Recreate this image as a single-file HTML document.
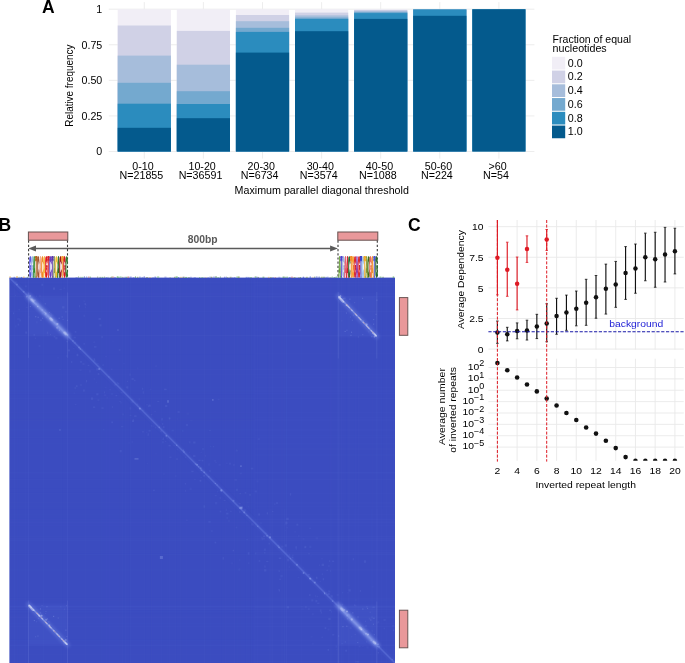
<!DOCTYPE html>
<html lang="en"><head><meta charset="utf-8"><title>Figure</title>
<style>
html,body{margin:0;padding:0;background:#fff;}
svg{display:block;}
text{font-family:"Liberation Sans", Arial, Helvetica, sans-serif;fill:#000;}
.t{font-size:10.7px;}
.c{font-size:10.35px;}
.lab{font-size:17.5px;font-weight:700;fill:#000;}
</style></head><body>
<svg width="685" height="663" viewBox="0 0 685 663">
<defs>
<filter id="b1" x="-20%" y="-20%" width="140%" height="140%"><feGaussianBlur stdDeviation="0.8"/></filter>
<filter id="b2" x="-20%" y="-20%" width="140%" height="140%"><feGaussianBlur stdDeviation="1.6"/></filter>
<filter id="b3" x="-30%" y="-30%" width="160%" height="160%"><feGaussianBlur stdDeviation="3"/></filter>
<filter id="b05" x="-20%" y="-20%" width="140%" height="140%"><feGaussianBlur stdDeviation="0.45"/></filter>
</defs>
<rect width="685" height="663" fill="#fff"/>

<g id="panelA">
<text class="lab" x="42" y="12.6">A</text>
<line x1="108.8" x2="534.4" y1="151.50" y2="151.50" stroke="#ebebeb" stroke-width="0.9"/>
<line x1="108.8" x2="534.4" y1="115.92" y2="115.92" stroke="#ebebeb" stroke-width="0.9"/>
<line x1="108.8" x2="534.4" y1="80.35" y2="80.35" stroke="#ebebeb" stroke-width="0.9"/>
<line x1="108.8" x2="534.4" y1="44.77" y2="44.77" stroke="#ebebeb" stroke-width="0.9"/>
<line x1="108.8" x2="534.4" y1="9.20" y2="9.20" stroke="#ebebeb" stroke-width="0.9"/>
<line x1="144.30" x2="144.30" y1="2.1" y2="158.6" stroke="#ebebeb" stroke-width="0.9"/>
<line x1="203.40" x2="203.40" y1="2.1" y2="158.6" stroke="#ebebeb" stroke-width="0.9"/>
<line x1="262.50" x2="262.50" y1="2.1" y2="158.6" stroke="#ebebeb" stroke-width="0.9"/>
<line x1="321.60" x2="321.60" y1="2.1" y2="158.6" stroke="#ebebeb" stroke-width="0.9"/>
<line x1="380.70" x2="380.70" y1="2.1" y2="158.6" stroke="#ebebeb" stroke-width="0.9"/>
<line x1="439.80" x2="439.80" y1="2.1" y2="158.6" stroke="#ebebeb" stroke-width="0.9"/>
<line x1="498.90" x2="498.90" y1="2.1" y2="158.6" stroke="#ebebeb" stroke-width="0.9"/>
<rect x="117.70" y="9.20" width="53.2" height="142.30" fill="#f1eef6"/>
<rect x="117.70" y="25.50" width="53.2" height="126.00" fill="#d0d1e6"/>
<rect x="117.70" y="55.60" width="53.2" height="95.90" fill="#a6bddb"/>
<rect x="117.70" y="82.80" width="53.2" height="68.70" fill="#74a9cf"/>
<rect x="117.70" y="103.70" width="53.2" height="47.80" fill="#2b8cbe"/>
<rect x="117.70" y="127.80" width="53.2" height="23.70" fill="#045a8d"/>
<rect x="176.80" y="9.20" width="53.2" height="142.30" fill="#f1eef6"/>
<rect x="176.80" y="30.90" width="53.2" height="120.60" fill="#d0d1e6"/>
<rect x="176.80" y="64.70" width="53.2" height="86.80" fill="#a6bddb"/>
<rect x="176.80" y="91.20" width="53.2" height="60.30" fill="#74a9cf"/>
<rect x="176.80" y="104.00" width="53.2" height="47.50" fill="#2b8cbe"/>
<rect x="176.80" y="118.20" width="53.2" height="33.30" fill="#045a8d"/>
<rect x="235.90" y="9.20" width="53.2" height="142.30" fill="#f1eef6"/>
<rect x="235.90" y="15.00" width="53.2" height="136.50" fill="#d0d1e6"/>
<rect x="235.90" y="21.20" width="53.2" height="130.30" fill="#a6bddb"/>
<rect x="235.90" y="27.80" width="53.2" height="123.70" fill="#74a9cf"/>
<rect x="235.90" y="31.90" width="53.2" height="119.60" fill="#2b8cbe"/>
<rect x="235.90" y="52.60" width="53.2" height="98.90" fill="#045a8d"/>
<rect x="295.00" y="9.20" width="53.2" height="142.30" fill="#f1eef6"/>
<rect x="295.00" y="12.60" width="53.2" height="138.90" fill="#d0d1e6"/>
<rect x="295.00" y="15.40" width="53.2" height="136.10" fill="#a6bddb"/>
<rect x="295.00" y="17.50" width="53.2" height="134.00" fill="#74a9cf"/>
<rect x="295.00" y="18.90" width="53.2" height="132.60" fill="#2b8cbe"/>
<rect x="295.00" y="31.20" width="53.2" height="120.30" fill="#045a8d"/>
<rect x="354.10" y="9.20" width="53.2" height="142.30" fill="#f1eef6"/>
<rect x="354.10" y="9.90" width="53.2" height="141.60" fill="#d0d1e6"/>
<rect x="354.10" y="10.80" width="53.2" height="140.70" fill="#a6bddb"/>
<rect x="354.10" y="12.00" width="53.2" height="139.50" fill="#74a9cf"/>
<rect x="354.10" y="13.10" width="53.2" height="138.40" fill="#2b8cbe"/>
<rect x="354.10" y="18.90" width="53.2" height="132.60" fill="#045a8d"/>
<rect x="413.20" y="9.20" width="53.2" height="142.30" fill="#a6bddb"/>
<rect x="413.20" y="9.30" width="53.2" height="142.20" fill="#74a9cf"/>
<rect x="413.20" y="9.50" width="53.2" height="142.00" fill="#2b8cbe"/>
<rect x="413.20" y="15.80" width="53.2" height="135.70" fill="#045a8d"/>
<rect x="472.30" y="9.20" width="53.2" height="142.30" fill="#2b8cbe"/>
<rect x="472.30" y="9.30" width="53.2" height="142.20" fill="#045a8d"/>
<text class="t" transform="translate(102.3,155.30) scale(1,0.94)" text-anchor="end">0</text>
<text class="t" transform="translate(102.3,119.72) scale(1,0.94)" text-anchor="end">0.25</text>
<text class="t" transform="translate(102.3,84.15) scale(1,0.94)" text-anchor="end">0.50</text>
<text class="t" transform="translate(102.3,48.57) scale(1,0.94)" text-anchor="end">0.75</text>
<text class="t" transform="translate(102.3,13.00) scale(1,0.94)" text-anchor="end">1</text>
<text class="t" transform="translate(73.3,85.7) rotate(-90) scale(1,0.94)" text-anchor="middle" textLength="82.1" lengthAdjust="spacingAndGlyphs">Relative frequency</text>
<text class="t" transform="translate(143.00,170.4) scale(1,0.94)" text-anchor="middle">0-10</text>
<text class="t" transform="translate(141.40,179.1) scale(1,0.94)" text-anchor="middle">N=21855</text>
<text class="t" transform="translate(202.10,170.4) scale(1,0.94)" text-anchor="middle">10-20</text>
<text class="t" transform="translate(200.50,179.1) scale(1,0.94)" text-anchor="middle">N=36591</text>
<text class="t" transform="translate(261.20,170.4) scale(1,0.94)" text-anchor="middle">20-30</text>
<text class="t" transform="translate(259.60,179.1) scale(1,0.94)" text-anchor="middle">N=6734</text>
<text class="t" transform="translate(320.30,170.4) scale(1,0.94)" text-anchor="middle">30-40</text>
<text class="t" transform="translate(318.70,179.1) scale(1,0.94)" text-anchor="middle">N=3574</text>
<text class="t" transform="translate(379.40,170.4) scale(1,0.94)" text-anchor="middle">40-50</text>
<text class="t" transform="translate(377.80,179.1) scale(1,0.94)" text-anchor="middle">N=1088</text>
<text class="t" transform="translate(438.50,170.4) scale(1,0.94)" text-anchor="middle">50-60</text>
<text class="t" transform="translate(436.90,179.1) scale(1,0.94)" text-anchor="middle">N=224</text>
<text class="t" transform="translate(497.60,170.4) scale(1,0.94)" text-anchor="middle">&gt;60</text>
<text class="t" transform="translate(496.00,179.1) scale(1,0.94)" text-anchor="middle">N=54</text>
<text class="t" transform="translate(321.7,194.4) scale(1,0.94)" text-anchor="middle" textLength="174.3" lengthAdjust="spacingAndGlyphs">Maximum parallel diagonal threshold</text>
<text class="t" transform="translate(552.6,43.4) scale(1,0.94)" textLength="78.5" lengthAdjust="spacingAndGlyphs">Fraction of equal</text>
<text class="t" transform="translate(552.6,51.9) scale(1,0.94)">nucleotides</text>
<rect x="552" y="56.80" width="13.2" height="12.7" fill="#f1eef6"/>
<text class="t" transform="translate(567.8,66.70) scale(1,0.94)">0.0</text>
<rect x="552" y="70.55" width="13.2" height="12.7" fill="#d0d1e6"/>
<text class="t" transform="translate(567.8,80.45) scale(1,0.94)">0.2</text>
<rect x="552" y="84.30" width="13.2" height="12.7" fill="#a6bddb"/>
<text class="t" transform="translate(567.8,94.20) scale(1,0.94)">0.4</text>
<rect x="552" y="98.05" width="13.2" height="12.7" fill="#74a9cf"/>
<text class="t" transform="translate(567.8,107.95) scale(1,0.94)">0.6</text>
<rect x="552" y="111.80" width="13.2" height="12.7" fill="#2b8cbe"/>
<text class="t" transform="translate(567.8,121.70) scale(1,0.94)">0.8</text>
<rect x="552" y="125.55" width="13.2" height="12.7" fill="#045a8d"/>
<text class="t" transform="translate(567.8,135.45) scale(1,0.94)">1.0</text>
</g>
<g id="panelB">
<text class="lab" x="-1.6" y="230.8">B</text>
<rect x="28.4" y="232" width="39.4" height="8.2" fill="#e9989a" stroke="#66504f" stroke-width="1"/>
<rect x="337.8" y="232" width="40.0" height="8.2" fill="#e9989a" stroke="#66504f" stroke-width="1"/>
<rect x="399.4" y="297.6" width="8.4" height="37.7" fill="#e9989a" stroke="#66504f" stroke-width="0.95"/>
<rect x="399.4" y="610.2" width="8.4" height="37.6" fill="#e9989a" stroke="#66504f" stroke-width="0.95"/>
<line x1="28.6" x2="28.6" y1="240.6" y2="277.4" stroke="#3a3a3a" stroke-width="1.1" stroke-dasharray="2.2 2"/>
<line x1="67.5" x2="67.5" y1="240.6" y2="277.4" stroke="#3a3a3a" stroke-width="1.1" stroke-dasharray="2.2 2"/>
<line x1="338.0" x2="338.0" y1="240.6" y2="277.4" stroke="#3a3a3a" stroke-width="1.1" stroke-dasharray="2.2 2"/>
<line x1="377.3" x2="377.3" y1="240.6" y2="277.4" stroke="#3a3a3a" stroke-width="1.1" stroke-dasharray="2.2 2"/>
<line x1="34" x2="332" y1="248.5" y2="248.5" stroke="#5a5a5a" stroke-width="1.3"/>
<polygon points="28.2,248.5 36.0,245.6 36.0,251.4" fill="#5a5a5a"/>
<polygon points="337.9,248.5 330.1,245.6 330.1,251.4" fill="#5a5a5a"/>
<text x="202.6" y="242.8" text-anchor="middle" style="font-size:10.4px;font-weight:700;fill:#595959" textLength="29.8" lengthAdjust="spacingAndGlyphs">800bp</text>
<rect x="9.4" y="277.6" width="385.6" height="385.4" fill="#3b4cc0"/>
<clipPath id="hc"><rect x="9.4" y="277.6" width="385.6" height="385.4"/></clipPath>
<g clip-path="url(#hc)">
<line x1="101.2" x2="101.2" y1="277.6" y2="663.0" stroke="#7f92ea" stroke-width="0.8" opacity="0.034"/>
<line x1="9.4" x2="395.0" y1="369.4" y2="369.4" stroke="#7f92ea" stroke-width="0.8" opacity="0.034"/>
<line x1="152.1" x2="152.1" y1="277.6" y2="663.0" stroke="#7f92ea" stroke-width="0.8" opacity="0.036"/>
<line x1="9.4" x2="395.0" y1="420.3" y2="420.3" stroke="#7f92ea" stroke-width="0.8" opacity="0.036"/>
<line x1="250.7" x2="250.7" y1="277.6" y2="663.0" stroke="#7f92ea" stroke-width="0.8" opacity="0.017"/>
<line x1="9.4" x2="395.0" y1="518.9" y2="518.9" stroke="#7f92ea" stroke-width="0.8" opacity="0.017"/>
<line x1="14.5" x2="14.5" y1="277.6" y2="663.0" stroke="#7f92ea" stroke-width="0.8" opacity="0.044"/>
<line x1="9.4" x2="395.0" y1="282.7" y2="282.7" stroke="#7f92ea" stroke-width="0.8" opacity="0.044"/>
<line x1="109.4" x2="109.4" y1="277.6" y2="663.0" stroke="#7f92ea" stroke-width="0.8" opacity="0.023"/>
<line x1="9.4" x2="395.0" y1="377.6" y2="377.6" stroke="#7f92ea" stroke-width="0.8" opacity="0.023"/>
<line x1="393.3" x2="393.3" y1="277.6" y2="663.0" stroke="#7f92ea" stroke-width="0.8" opacity="0.031"/>
<line x1="9.4" x2="395.0" y1="661.5" y2="661.5" stroke="#7f92ea" stroke-width="0.8" opacity="0.031"/>
<line x1="331.9" x2="331.9" y1="277.6" y2="663.0" stroke="#7f92ea" stroke-width="0.8" opacity="0.032"/>
<line x1="9.4" x2="395.0" y1="600.1" y2="600.1" stroke="#7f92ea" stroke-width="0.8" opacity="0.032"/>
<line x1="255.8" x2="255.8" y1="277.6" y2="663.0" stroke="#7f92ea" stroke-width="0.8" opacity="0.020"/>
<line x1="9.4" x2="395.0" y1="524.0" y2="524.0" stroke="#7f92ea" stroke-width="0.8" opacity="0.020"/>
<line x1="254.2" x2="254.2" y1="277.6" y2="663.0" stroke="#7f92ea" stroke-width="0.8" opacity="0.045"/>
<line x1="9.4" x2="395.0" y1="522.4" y2="522.4" stroke="#7f92ea" stroke-width="0.8" opacity="0.045"/>
<line x1="211.1" x2="211.1" y1="277.6" y2="663.0" stroke="#7f92ea" stroke-width="0.8" opacity="0.041"/>
<line x1="9.4" x2="395.0" y1="479.3" y2="479.3" stroke="#7f92ea" stroke-width="0.8" opacity="0.041"/>
<line x1="268.3" x2="268.3" y1="277.6" y2="663.0" stroke="#7f92ea" stroke-width="0.8" opacity="0.017"/>
<line x1="9.4" x2="395.0" y1="536.5" y2="536.5" stroke="#7f92ea" stroke-width="0.8" opacity="0.017"/>
<line x1="301.8" x2="301.8" y1="277.6" y2="663.0" stroke="#7f92ea" stroke-width="0.8" opacity="0.036"/>
<line x1="9.4" x2="395.0" y1="570.0" y2="570.0" stroke="#7f92ea" stroke-width="0.8" opacity="0.036"/>
<line x1="125.6" x2="125.6" y1="277.6" y2="663.0" stroke="#7f92ea" stroke-width="0.8" opacity="0.016"/>
<line x1="9.4" x2="395.0" y1="393.8" y2="393.8" stroke="#7f92ea" stroke-width="0.8" opacity="0.016"/>
<line x1="343.1" x2="343.1" y1="277.6" y2="663.0" stroke="#7f92ea" stroke-width="0.8" opacity="0.032"/>
<line x1="9.4" x2="395.0" y1="611.3" y2="611.3" stroke="#7f92ea" stroke-width="0.8" opacity="0.032"/>
<line x1="286.6" x2="286.6" y1="277.6" y2="663.0" stroke="#7f92ea" stroke-width="0.8" opacity="0.046"/>
<line x1="9.4" x2="395.0" y1="554.8" y2="554.8" stroke="#7f92ea" stroke-width="0.8" opacity="0.046"/>
<line x1="284.8" x2="284.8" y1="277.6" y2="663.0" stroke="#7f92ea" stroke-width="0.8" opacity="0.047"/>
<line x1="9.4" x2="395.0" y1="553.0" y2="553.0" stroke="#7f92ea" stroke-width="0.8" opacity="0.047"/>
<line x1="161.7" x2="161.7" y1="277.6" y2="663.0" stroke="#7f92ea" stroke-width="0.8" opacity="0.043"/>
<line x1="9.4" x2="395.0" y1="429.9" y2="429.9" stroke="#7f92ea" stroke-width="0.8" opacity="0.043"/>
<line x1="180.8" x2="180.8" y1="277.6" y2="663.0" stroke="#7f92ea" stroke-width="0.8" opacity="0.048"/>
<line x1="9.4" x2="395.0" y1="449.0" y2="449.0" stroke="#7f92ea" stroke-width="0.8" opacity="0.048"/>
<line x1="348.3" x2="348.3" y1="277.6" y2="663.0" stroke="#7f92ea" stroke-width="0.8" opacity="0.018"/>
<line x1="9.4" x2="395.0" y1="616.5" y2="616.5" stroke="#7f92ea" stroke-width="0.8" opacity="0.018"/>
<line x1="61.8" x2="61.8" y1="277.6" y2="663.0" stroke="#7f92ea" stroke-width="0.8" opacity="0.023"/>
<line x1="9.4" x2="395.0" y1="330.0" y2="330.0" stroke="#7f92ea" stroke-width="0.8" opacity="0.023"/>
<line x1="381.7" x2="381.7" y1="277.6" y2="663.0" stroke="#7f92ea" stroke-width="0.8" opacity="0.030"/>
<line x1="9.4" x2="395.0" y1="649.9" y2="649.9" stroke="#7f92ea" stroke-width="0.8" opacity="0.030"/>
<line x1="251.0" x2="251.0" y1="277.6" y2="663.0" stroke="#7f92ea" stroke-width="0.8" opacity="0.026"/>
<line x1="9.4" x2="395.0" y1="519.2" y2="519.2" stroke="#7f92ea" stroke-width="0.8" opacity="0.026"/>
<line x1="205.0" x2="205.0" y1="277.6" y2="663.0" stroke="#7f92ea" stroke-width="0.8" opacity="0.029"/>
<line x1="9.4" x2="395.0" y1="473.2" y2="473.2" stroke="#7f92ea" stroke-width="0.8" opacity="0.029"/>
<line x1="144.7" x2="144.7" y1="277.6" y2="663.0" stroke="#7f92ea" stroke-width="0.8" opacity="0.035"/>
<line x1="9.4" x2="395.0" y1="412.9" y2="412.9" stroke="#7f92ea" stroke-width="0.8" opacity="0.035"/>
<line x1="234.7" x2="234.7" y1="277.6" y2="663.0" stroke="#7f92ea" stroke-width="0.8" opacity="0.047"/>
<line x1="9.4" x2="395.0" y1="502.9" y2="502.9" stroke="#7f92ea" stroke-width="0.8" opacity="0.047"/>
<line x1="272.4" x2="272.4" y1="277.6" y2="663.0" stroke="#7f92ea" stroke-width="0.8" opacity="0.048"/>
<line x1="9.4" x2="395.0" y1="540.6" y2="540.6" stroke="#7f92ea" stroke-width="0.8" opacity="0.048"/>
<line x1="339.6" x2="339.6" y1="277.6" y2="663.0" stroke="#7f92ea" stroke-width="0.8" opacity="0.050"/>
<line x1="9.4" x2="395.0" y1="607.8" y2="607.8" stroke="#7f92ea" stroke-width="0.8" opacity="0.050"/>
<line x1="268.2" x2="268.2" y1="277.6" y2="663.0" stroke="#7f92ea" stroke-width="0.8" opacity="0.021"/>
<line x1="9.4" x2="395.0" y1="536.4" y2="536.4" stroke="#7f92ea" stroke-width="0.8" opacity="0.021"/>
<line x1="341.3" x2="341.3" y1="277.6" y2="663.0" stroke="#7f92ea" stroke-width="0.8" opacity="0.049"/>
<line x1="9.4" x2="395.0" y1="609.5" y2="609.5" stroke="#7f92ea" stroke-width="0.8" opacity="0.049"/>
<line x1="358.3" x2="358.3" y1="277.6" y2="663.0" stroke="#7f92ea" stroke-width="0.8" opacity="0.035"/>
<line x1="9.4" x2="395.0" y1="626.5" y2="626.5" stroke="#7f92ea" stroke-width="0.8" opacity="0.035"/>
<line x1="284.6" x2="284.6" y1="277.6" y2="663.0" stroke="#7f92ea" stroke-width="0.8" opacity="0.022"/>
<line x1="9.4" x2="395.0" y1="552.8" y2="552.8" stroke="#7f92ea" stroke-width="0.8" opacity="0.022"/>
<line x1="330.1" x2="330.1" y1="277.6" y2="663.0" stroke="#7f92ea" stroke-width="0.8" opacity="0.035"/>
<line x1="9.4" x2="395.0" y1="598.3" y2="598.3" stroke="#7f92ea" stroke-width="0.8" opacity="0.035"/>
<line x1="119.3" x2="119.3" y1="277.6" y2="663.0" stroke="#7f92ea" stroke-width="0.8" opacity="0.017"/>
<line x1="9.4" x2="395.0" y1="387.5" y2="387.5" stroke="#7f92ea" stroke-width="0.8" opacity="0.017"/>
<line x1="338.7" x2="338.7" y1="277.6" y2="663.0" stroke="#7f92ea" stroke-width="0.8" opacity="0.050"/>
<line x1="9.4" x2="395.0" y1="606.9" y2="606.9" stroke="#7f92ea" stroke-width="0.8" opacity="0.050"/>
<line x1="43.5" x2="43.5" y1="277.6" y2="663.0" stroke="#7f92ea" stroke-width="0.8" opacity="0.043"/>
<line x1="9.4" x2="395.0" y1="311.7" y2="311.7" stroke="#7f92ea" stroke-width="0.8" opacity="0.043"/>
<line x1="167.7" x2="167.7" y1="277.6" y2="663.0" stroke="#7f92ea" stroke-width="0.8" opacity="0.020"/>
<line x1="9.4" x2="395.0" y1="435.9" y2="435.9" stroke="#7f92ea" stroke-width="0.8" opacity="0.020"/>
<line x1="122.7" x2="122.7" y1="277.6" y2="663.0" stroke="#7f92ea" stroke-width="0.8" opacity="0.042"/>
<line x1="9.4" x2="395.0" y1="390.9" y2="390.9" stroke="#7f92ea" stroke-width="0.8" opacity="0.042"/>
<line x1="345.9" x2="345.9" y1="277.6" y2="663.0" stroke="#7f92ea" stroke-width="0.8" opacity="0.017"/>
<line x1="9.4" x2="395.0" y1="614.1" y2="614.1" stroke="#7f92ea" stroke-width="0.8" opacity="0.017"/>
<line x1="246.4" x2="246.4" y1="277.6" y2="663.0" stroke="#7f92ea" stroke-width="0.8" opacity="0.017"/>
<line x1="9.4" x2="395.0" y1="514.6" y2="514.6" stroke="#7f92ea" stroke-width="0.8" opacity="0.017"/>
<line x1="286.4" x2="286.4" y1="277.6" y2="663.0" stroke="#7f92ea" stroke-width="0.8" opacity="0.027"/>
<line x1="9.4" x2="395.0" y1="554.6" y2="554.6" stroke="#7f92ea" stroke-width="0.8" opacity="0.027"/>
<line x1="349.1" x2="349.1" y1="277.6" y2="663.0" stroke="#7f92ea" stroke-width="0.8" opacity="0.049"/>
<line x1="9.4" x2="395.0" y1="617.3" y2="617.3" stroke="#7f92ea" stroke-width="0.8" opacity="0.049"/>
<line x1="204.3" x2="204.3" y1="277.6" y2="663.0" stroke="#7f92ea" stroke-width="0.8" opacity="0.050"/>
<line x1="9.4" x2="395.0" y1="472.5" y2="472.5" stroke="#7f92ea" stroke-width="0.8" opacity="0.050"/>
<line x1="128.8" x2="128.8" y1="277.6" y2="663.0" stroke="#7f92ea" stroke-width="0.8" opacity="0.018"/>
<line x1="9.4" x2="395.0" y1="397.0" y2="397.0" stroke="#7f92ea" stroke-width="0.8" opacity="0.018"/>
<line x1="240.7" x2="240.7" y1="277.6" y2="663.0" stroke="#7f92ea" stroke-width="0.8" opacity="0.016"/>
<line x1="9.4" x2="395.0" y1="508.9" y2="508.9" stroke="#7f92ea" stroke-width="0.8" opacity="0.016"/>
<line x1="85.5" x2="85.5" y1="277.6" y2="663.0" stroke="#7f92ea" stroke-width="0.8" opacity="0.029"/>
<line x1="9.4" x2="395.0" y1="353.7" y2="353.7" stroke="#7f92ea" stroke-width="0.8" opacity="0.029"/>
<line x1="244.8" x2="244.8" y1="277.6" y2="663.0" stroke="#7f92ea" stroke-width="0.8" opacity="0.020"/>
<line x1="9.4" x2="395.0" y1="513.0" y2="513.0" stroke="#7f92ea" stroke-width="0.8" opacity="0.020"/>
<line x1="25.8" x2="25.8" y1="277.6" y2="663.0" stroke="#7f92ea" stroke-width="0.8" opacity="0.045"/>
<line x1="9.4" x2="395.0" y1="294.0" y2="294.0" stroke="#7f92ea" stroke-width="0.8" opacity="0.045"/>
<line x1="130.4" x2="130.4" y1="277.6" y2="663.0" stroke="#7f92ea" stroke-width="0.8" opacity="0.049"/>
<line x1="9.4" x2="395.0" y1="398.6" y2="398.6" stroke="#7f92ea" stroke-width="0.8" opacity="0.049"/>
<line x1="355.2" x2="355.2" y1="277.6" y2="663.0" stroke="#7f92ea" stroke-width="0.8" opacity="0.028"/>
<line x1="9.4" x2="395.0" y1="623.4" y2="623.4" stroke="#7f92ea" stroke-width="0.8" opacity="0.028"/>
<line x1="186.9" x2="186.9" y1="277.6" y2="663.0" stroke="#7f92ea" stroke-width="0.8" opacity="0.033"/>
<line x1="9.4" x2="395.0" y1="455.1" y2="455.1" stroke="#7f92ea" stroke-width="0.8" opacity="0.033"/>
<line x1="257.7" x2="257.7" y1="277.6" y2="663.0" stroke="#7f92ea" stroke-width="0.8" opacity="0.036"/>
<line x1="9.4" x2="395.0" y1="525.9" y2="525.9" stroke="#7f92ea" stroke-width="0.8" opacity="0.036"/>
<line x1="225.1" x2="225.1" y1="277.6" y2="663.0" stroke="#7f92ea" stroke-width="0.8" opacity="0.037"/>
<line x1="9.4" x2="395.0" y1="493.3" y2="493.3" stroke="#7f92ea" stroke-width="0.8" opacity="0.037"/>
<line x1="372.1" x2="372.1" y1="277.6" y2="663.0" stroke="#7f92ea" stroke-width="0.8" opacity="0.033"/>
<line x1="9.4" x2="395.0" y1="640.3" y2="640.3" stroke="#7f92ea" stroke-width="0.8" opacity="0.033"/>
<line x1="175.7" x2="175.7" y1="277.6" y2="663.0" stroke="#7f92ea" stroke-width="0.8" opacity="0.040"/>
<line x1="9.4" x2="395.0" y1="443.9" y2="443.9" stroke="#7f92ea" stroke-width="0.8" opacity="0.040"/>
<line x1="101.0" x2="101.0" y1="277.6" y2="663.0" stroke="#7f92ea" stroke-width="0.8" opacity="0.026"/>
<line x1="9.4" x2="395.0" y1="369.2" y2="369.2" stroke="#7f92ea" stroke-width="0.8" opacity="0.026"/>
<line x1="386.4" x2="386.4" y1="277.6" y2="663.0" stroke="#7f92ea" stroke-width="0.8" opacity="0.033"/>
<line x1="9.4" x2="395.0" y1="654.6" y2="654.6" stroke="#7f92ea" stroke-width="0.8" opacity="0.033"/>
<line x1="220.9" x2="220.9" y1="277.6" y2="663.0" stroke="#7f92ea" stroke-width="0.8" opacity="0.015"/>
<line x1="9.4" x2="395.0" y1="489.1" y2="489.1" stroke="#7f92ea" stroke-width="0.8" opacity="0.015"/>
<line x1="169.5" x2="169.5" y1="277.6" y2="663.0" stroke="#7f92ea" stroke-width="0.8" opacity="0.035"/>
<line x1="9.4" x2="395.0" y1="437.7" y2="437.7" stroke="#7f92ea" stroke-width="0.8" opacity="0.035"/>
<line x1="17.1" x2="17.1" y1="277.6" y2="663.0" stroke="#7f92ea" stroke-width="0.8" opacity="0.037"/>
<line x1="9.4" x2="395.0" y1="285.3" y2="285.3" stroke="#7f92ea" stroke-width="0.8" opacity="0.037"/>
<line x1="253.2" x2="253.2" y1="277.6" y2="663.0" stroke="#7f92ea" stroke-width="0.8" opacity="0.017"/>
<line x1="9.4" x2="395.0" y1="521.4" y2="521.4" stroke="#7f92ea" stroke-width="0.8" opacity="0.017"/>
<line x1="251.3" x2="251.3" y1="277.6" y2="663.0" stroke="#7f92ea" stroke-width="0.8" opacity="0.031"/>
<line x1="9.4" x2="395.0" y1="519.5" y2="519.5" stroke="#7f92ea" stroke-width="0.8" opacity="0.031"/>
<line x1="271.3" x2="271.3" y1="277.6" y2="663.0" stroke="#7f92ea" stroke-width="0.8" opacity="0.027"/>
<line x1="9.4" x2="395.0" y1="539.5" y2="539.5" stroke="#7f92ea" stroke-width="0.8" opacity="0.027"/>
<line x1="282.0" x2="282.0" y1="277.6" y2="663.0" stroke="#7f92ea" stroke-width="0.8" opacity="0.041"/>
<line x1="9.4" x2="395.0" y1="550.2" y2="550.2" stroke="#7f92ea" stroke-width="0.8" opacity="0.041"/>
<line x1="18.0" x2="18.0" y1="277.6" y2="663.0" stroke="#7f92ea" stroke-width="0.8" opacity="0.017"/>
<line x1="9.4" x2="395.0" y1="286.2" y2="286.2" stroke="#7f92ea" stroke-width="0.8" opacity="0.017"/>
<line x1="270.1" x2="270.1" y1="277.6" y2="663.0" stroke="#7f92ea" stroke-width="0.8" opacity="0.049"/>
<line x1="9.4" x2="395.0" y1="538.3" y2="538.3" stroke="#7f92ea" stroke-width="0.8" opacity="0.049"/>
<line x1="106.2" x2="106.2" y1="277.6" y2="663.0" stroke="#7f92ea" stroke-width="0.8" opacity="0.031"/>
<line x1="9.4" x2="395.0" y1="374.4" y2="374.4" stroke="#7f92ea" stroke-width="0.8" opacity="0.031"/>
<line x1="237.9" x2="237.9" y1="277.6" y2="663.0" stroke="#7f92ea" stroke-width="0.8" opacity="0.026"/>
<line x1="9.4" x2="395.0" y1="506.1" y2="506.1" stroke="#7f92ea" stroke-width="0.8" opacity="0.026"/>
<line x1="149.7" x2="149.7" y1="277.6" y2="663.0" stroke="#7f92ea" stroke-width="0.8" opacity="0.026"/>
<line x1="9.4" x2="395.0" y1="417.9" y2="417.9" stroke="#7f92ea" stroke-width="0.8" opacity="0.026"/>
<line x1="151.7" x2="151.7" y1="277.6" y2="663.0" stroke="#7f92ea" stroke-width="0.8" opacity="0.036"/>
<line x1="9.4" x2="395.0" y1="419.9" y2="419.9" stroke="#7f92ea" stroke-width="0.8" opacity="0.036"/>
<line x1="125.2" x2="125.2" y1="277.6" y2="663.0" stroke="#7f92ea" stroke-width="0.8" opacity="0.028"/>
<line x1="9.4" x2="395.0" y1="393.4" y2="393.4" stroke="#7f92ea" stroke-width="0.8" opacity="0.028"/>
<line x1="28.5" x2="28.5" y1="277.6" y2="663.0" stroke="#8fa0f0" stroke-width="1" opacity="0.05"/>
<line x1="9.4" x2="395.0" y1="296.7" y2="296.7" stroke="#8fa0f0" stroke-width="1" opacity="0.05"/>
<line x1="67.5" x2="67.5" y1="277.6" y2="663.0" stroke="#8fa0f0" stroke-width="1" opacity="0.05"/>
<line x1="9.4" x2="395.0" y1="335.7" y2="335.7" stroke="#8fa0f0" stroke-width="1" opacity="0.05"/>
<line x1="338" x2="338" y1="277.6" y2="663.0" stroke="#8fa0f0" stroke-width="1" opacity="0.05"/>
<line x1="9.4" x2="395.0" y1="606.2" y2="606.2" stroke="#8fa0f0" stroke-width="1" opacity="0.05"/>
<line x1="377" x2="377" y1="277.6" y2="663.0" stroke="#8fa0f0" stroke-width="1" opacity="0.05"/>
<line x1="9.4" x2="395.0" y1="645.2" y2="645.2" stroke="#8fa0f0" stroke-width="1" opacity="0.05"/>
<line x1="9.4" y1="277.6" x2="395.0" y2="663.0" stroke="#6f86e6" stroke-width="1.5" opacity="0.42" filter="url(#b05)"/>
<line x1="9.4" y1="277.6" x2="395.0" y2="663.0" stroke="#5468d4" stroke-width="4" opacity="0.22" filter="url(#b1)"/>
<rect x="229.3" y="462.7" width="1.4" height="2.0" fill="#7186e2" opacity="0.18"/>
<rect x="359.8" y="589.9" width="1.3" height="2.0" fill="#7186e2" opacity="0.15"/>
<rect x="203.5" y="505.3" width="1.7" height="2.4" fill="#7186e2" opacity="0.15"/>
<rect x="125.6" y="386.5" width="1.5" height="1.7" fill="#7186e2" opacity="0.07"/>
<rect x="243.7" y="509.3" width="2.3" height="2.4" fill="#7186e2" opacity="0.14"/>
<rect x="272.1" y="510.9" width="1.2" height="1.1" fill="#7186e2" opacity="0.20"/>
<rect x="119.1" y="400.9" width="2.1" height="1.2" fill="#7186e2" opacity="0.11"/>
<rect x="103.0" y="429.3" width="1.4" height="1.0" fill="#7186e2" opacity="0.13"/>
<rect x="126.8" y="380.8" width="1.2" height="1.0" fill="#7186e2" opacity="0.18"/>
<rect x="297.6" y="576.8" width="1.8" height="1.2" fill="#7186e2" opacity="0.08"/>
<rect x="55.5" y="319.8" width="1.4" height="1.3" fill="#7186e2" opacity="0.09"/>
<rect x="261.5" y="538.5" width="1.7" height="1.7" fill="#7186e2" opacity="0.11"/>
<rect x="217.2" y="490.7" width="1.1" height="1.7" fill="#7186e2" opacity="0.11"/>
<rect x="310.4" y="555.1" width="1.2" height="2.3" fill="#7186e2" opacity="0.06"/>
<rect x="218.5" y="463.8" width="2.3" height="2.1" fill="#7186e2" opacity="0.08"/>
<rect x="200.2" y="476.9" width="1.9" height="1.1" fill="#7186e2" opacity="0.07"/>
<rect x="241.4" y="505.6" width="1.6" height="1.8" fill="#7186e2" opacity="0.10"/>
<rect x="347.4" y="584.6" width="2.4" height="1.7" fill="#7186e2" opacity="0.06"/>
<rect x="162.5" y="438.8" width="1.2" height="1.3" fill="#7186e2" opacity="0.16"/>
<rect x="249.3" y="494.0" width="1.4" height="1.9" fill="#7186e2" opacity="0.17"/>
<rect x="321.6" y="563.7" width="2.4" height="2.3" fill="#7186e2" opacity="0.17"/>
<rect x="235.6" y="449.4" width="1.9" height="2.1" fill="#7186e2" opacity="0.09"/>
<rect x="44.9" y="309.2" width="1.4" height="1.9" fill="#7186e2" opacity="0.14"/>
<rect x="86.0" y="380.0" width="1.1" height="2.4" fill="#7186e2" opacity="0.17"/>
<rect x="230.6" y="562.3" width="2.5" height="2.0" fill="#7186e2" opacity="0.06"/>
<rect x="371.5" y="586.3" width="2.2" height="1.2" fill="#7186e2" opacity="0.07"/>
<rect x="17.4" y="317.9" width="2.2" height="2.2" fill="#7186e2" opacity="0.09"/>
<rect x="52.9" y="287.5" width="2.1" height="2.3" fill="#7186e2" opacity="0.20"/>
<rect x="300.4" y="605.9" width="2.3" height="1.0" fill="#7186e2" opacity="0.06"/>
<rect x="342.0" y="591.9" width="1.2" height="1.5" fill="#7186e2" opacity="0.11"/>
<rect x="200.5" y="451.8" width="1.7" height="1.3" fill="#7186e2" opacity="0.07"/>
<rect x="87.7" y="364.8" width="1.6" height="1.2" fill="#7186e2" opacity="0.17"/>
<rect x="219.5" y="496.9" width="1.7" height="2.0" fill="#7186e2" opacity="0.09"/>
<rect x="18.4" y="309.0" width="1.5" height="1.4" fill="#7186e2" opacity="0.10"/>
<rect x="330.9" y="611.1" width="1.0" height="1.7" fill="#7186e2" opacity="0.11"/>
<rect x="118.2" y="383.2" width="1.1" height="1.2" fill="#7186e2" opacity="0.20"/>
<rect x="142.7" y="391.2" width="1.2" height="2.5" fill="#7186e2" opacity="0.15"/>
<rect x="378.2" y="621.4" width="1.1" height="1.4" fill="#7186e2" opacity="0.17"/>
<rect x="208.4" y="521.1" width="2.2" height="1.6" fill="#7186e2" opacity="0.18"/>
<rect x="39.3" y="294.6" width="1.3" height="2.3" fill="#7186e2" opacity="0.12"/>
<rect x="322.7" y="578.2" width="1.4" height="2.1" fill="#7186e2" opacity="0.19"/>
<rect x="251.1" y="523.3" width="2.4" height="2.2" fill="#7186e2" opacity="0.12"/>
<rect x="163.4" y="473.0" width="1.1" height="2.2" fill="#7186e2" opacity="0.08"/>
<rect x="93.6" y="378.2" width="1.6" height="1.7" fill="#7186e2" opacity="0.08"/>
<rect x="173.1" y="444.7" width="2.1" height="1.1" fill="#7186e2" opacity="0.08"/>
<rect x="210.8" y="530.5" width="1.9" height="1.1" fill="#7186e2" opacity="0.18"/>
<rect x="392.2" y="624.9" width="2.3" height="1.8" fill="#7186e2" opacity="0.11"/>
<rect x="235.7" y="526.6" width="1.7" height="1.8" fill="#7186e2" opacity="0.10"/>
<rect x="217.7" y="398.8" width="1.8" height="1.4" fill="#7186e2" opacity="0.12"/>
<rect x="362.4" y="632.5" width="1.5" height="2.3" fill="#7186e2" opacity="0.10"/>
<rect x="328.3" y="617.8" width="2.4" height="2.3" fill="#7186e2" opacity="0.17"/>
<rect x="84.5" y="303.1" width="1.4" height="1.9" fill="#7186e2" opacity="0.18"/>
<rect x="369.4" y="653.6" width="1.5" height="1.2" fill="#7186e2" opacity="0.06"/>
<rect x="131.5" y="378.0" width="2.2" height="2.0" fill="#7186e2" opacity="0.15"/>
<rect x="328.2" y="589.8" width="1.5" height="2.0" fill="#7186e2" opacity="0.11"/>
<rect x="120.9" y="426.2" width="2.4" height="1.0" fill="#7186e2" opacity="0.16"/>
<rect x="33.5" y="334.2" width="1.6" height="1.5" fill="#7186e2" opacity="0.19"/>
<rect x="176.4" y="418.3" width="1.4" height="1.4" fill="#7186e2" opacity="0.07"/>
<rect x="14.9" y="281.4" width="1.8" height="2.1" fill="#7186e2" opacity="0.15"/>
<rect x="109.4" y="388.9" width="1.6" height="1.5" fill="#7186e2" opacity="0.09"/>
<rect x="380.0" y="647.3" width="2.1" height="1.2" fill="#7186e2" opacity="0.08"/>
<rect x="321.7" y="573.4" width="1.4" height="1.5" fill="#7186e2" opacity="0.14"/>
<rect x="129.6" y="414.8" width="1.9" height="1.1" fill="#7186e2" opacity="0.13"/>
<rect x="234.5" y="478.8" width="2.4" height="2.0" fill="#7186e2" opacity="0.12"/>
<rect x="73.4" y="392.5" width="1.9" height="1.4" fill="#7186e2" opacity="0.08"/>
<rect x="214.7" y="495.2" width="2.1" height="1.0" fill="#7186e2" opacity="0.15"/>
<rect x="83.2" y="389.5" width="1.5" height="2.1" fill="#7186e2" opacity="0.20"/>
<rect x="130.5" y="399.4" width="2.4" height="1.3" fill="#7186e2" opacity="0.15"/>
<rect x="41.4" y="283.7" width="1.8" height="2.1" fill="#7186e2" opacity="0.19"/>
<rect x="304.5" y="545.8" width="1.9" height="2.0" fill="#7186e2" opacity="0.15"/>
<rect x="284.7" y="544.3" width="2.1" height="2.4" fill="#7186e2" opacity="0.15"/>
<rect x="347.2" y="613.8" width="2.2" height="1.5" fill="#7186e2" opacity="0.18"/>
<rect x="348.4" y="589.2" width="2.3" height="2.4" fill="#7186e2" opacity="0.16"/>
<rect x="201.5" y="460.1" width="2.3" height="1.5" fill="#7186e2" opacity="0.09"/>
<rect x="301.3" y="608.4" width="2.4" height="1.3" fill="#7186e2" opacity="0.08"/>
<rect x="104.9" y="356.2" width="2.2" height="1.1" fill="#7186e2" opacity="0.09"/>
<rect x="220.2" y="490.1" width="2.0" height="1.5" fill="#7186e2" opacity="0.11"/>
<rect x="210.2" y="445.8" width="1.0" height="1.3" fill="#7186e2" opacity="0.11"/>
<rect x="262.5" y="537.6" width="2.5" height="2.0" fill="#7186e2" opacity="0.12"/>
<rect x="311.3" y="599.3" width="2.1" height="2.2" fill="#7186e2" opacity="0.14"/>
<rect x="246.4" y="538.9" width="1.6" height="1.4" fill="#7186e2" opacity="0.11"/>
<rect x="351.1" y="636.2" width="1.3" height="1.2" fill="#7186e2" opacity="0.11"/>
<rect x="74.7" y="404.1" width="1.8" height="1.0" fill="#7186e2" opacity="0.13"/>
<rect x="76.6" y="353.8" width="1.7" height="2.4" fill="#7186e2" opacity="0.20"/>
<rect x="162.7" y="437.6" width="1.1" height="1.6" fill="#7186e2" opacity="0.17"/>
<rect x="309.3" y="545.6" width="2.1" height="2.5" fill="#7186e2" opacity="0.11"/>
<rect x="280.3" y="575.0" width="2.3" height="2.3" fill="#7186e2" opacity="0.11"/>
<rect x="155.1" y="365.5" width="1.9" height="1.2" fill="#7186e2" opacity="0.10"/>
<rect x="152.4" y="425.5" width="2.0" height="1.5" fill="#7186e2" opacity="0.07"/>
<rect x="317.1" y="602.6" width="2.4" height="1.3" fill="#7186e2" opacity="0.16"/>
<rect x="41.5" y="312.8" width="2.0" height="1.8" fill="#7186e2" opacity="0.18"/>
<rect x="263.8" y="548.5" width="2.1" height="2.3" fill="#7186e2" opacity="0.14"/>
<rect x="96.3" y="393.3" width="2.2" height="2.0" fill="#7186e2" opacity="0.19"/>
<rect x="321.4" y="636.6" width="1.6" height="1.3" fill="#7186e2" opacity="0.12"/>
<rect x="363.1" y="633.7" width="1.0" height="1.7" fill="#7186e2" opacity="0.19"/>
<rect x="348.2" y="614.4" width="2.3" height="1.1" fill="#7186e2" opacity="0.09"/>
<rect x="307.8" y="553.2" width="2.4" height="1.0" fill="#7186e2" opacity="0.13"/>
<rect x="349.6" y="626.8" width="2.1" height="2.3" fill="#7186e2" opacity="0.10"/>
<rect x="225.6" y="508.6" width="1.6" height="2.5" fill="#7186e2" opacity="0.08"/>
<rect x="307.7" y="574.0" width="2.1" height="1.4" fill="#7186e2" opacity="0.20"/>
<rect x="310.4" y="636.0" width="2.3" height="1.7" fill="#7186e2" opacity="0.06"/>
<rect x="311.8" y="642.7" width="1.9" height="2.1" fill="#7186e2" opacity="0.07"/>
<rect x="194.3" y="478.7" width="1.3" height="1.5" fill="#7186e2" opacity="0.12"/>
<rect x="186.5" y="412.4" width="2.5" height="2.4" fill="#7186e2" opacity="0.06"/>
<rect x="247.7" y="552.3" width="1.8" height="2.3" fill="#7186e2" opacity="0.19"/>
<rect x="74.5" y="387.0" width="1.7" height="2.2" fill="#7186e2" opacity="0.12"/>
<rect x="169.4" y="456.5" width="2.1" height="1.6" fill="#7186e2" opacity="0.13"/>
<rect x="162.8" y="426.1" width="1.7" height="1.9" fill="#7186e2" opacity="0.16"/>
<rect x="357.2" y="615.9" width="1.6" height="2.4" fill="#7186e2" opacity="0.16"/>
<rect x="157.3" y="400.9" width="2.0" height="1.0" fill="#7186e2" opacity="0.19"/>
<rect x="148.0" y="406.1" width="1.0" height="1.1" fill="#7186e2" opacity="0.11"/>
<rect x="110.8" y="393.3" width="2.4" height="1.4" fill="#7186e2" opacity="0.11"/>
<rect x="376.2" y="621.3" width="2.3" height="2.4" fill="#7186e2" opacity="0.08"/>
<rect x="35.9" y="295.5" width="1.2" height="1.1" fill="#7186e2" opacity="0.11"/>
<rect x="129.1" y="373.4" width="2.0" height="2.5" fill="#7186e2" opacity="0.08"/>
<rect x="315.5" y="537.1" width="2.5" height="2.4" fill="#7186e2" opacity="0.08"/>
<rect x="294.2" y="531.1" width="2.2" height="1.6" fill="#7186e2" opacity="0.06"/>
<rect x="302.5" y="537.9" width="2.1" height="2.1" fill="#7186e2" opacity="0.07"/>
<rect x="372.4" y="606.5" width="2.4" height="1.5" fill="#7186e2" opacity="0.17"/>
<rect x="371.1" y="616.3" width="1.9" height="2.2" fill="#7186e2" opacity="0.12"/>
<rect x="278.8" y="557.5" width="2.4" height="1.6" fill="#7186e2" opacity="0.19"/>
<rect x="63.5" y="287.5" width="1.6" height="1.4" fill="#7186e2" opacity="0.10"/>
<rect x="149.8" y="388.6" width="1.6" height="1.6" fill="#7186e2" opacity="0.09"/>
<rect x="238.9" y="510.9" width="1.7" height="2.4" fill="#7186e2" opacity="0.10"/>
<rect x="79.4" y="369.2" width="2.2" height="1.9" fill="#7186e2" opacity="0.08"/>
<rect x="101.4" y="407.3" width="2.2" height="1.6" fill="#7186e2" opacity="0.15"/>
<rect x="316.1" y="577.4" width="1.5" height="1.9" fill="#7186e2" opacity="0.13"/>
<rect x="284.8" y="529.8" width="1.1" height="1.1" fill="#7186e2" opacity="0.06"/>
<rect x="319.8" y="609.4" width="1.7" height="2.4" fill="#7186e2" opacity="0.15"/>
<rect x="335.6" y="645.4" width="1.2" height="2.3" fill="#7186e2" opacity="0.11"/>
<rect x="25.7" y="306.8" width="2.0" height="1.0" fill="#7186e2" opacity="0.12"/>
<rect x="188.8" y="441.1" width="1.7" height="2.2" fill="#7186e2" opacity="0.10"/>
<rect x="119.7" y="449.9" width="2.0" height="2.4" fill="#7186e2" opacity="0.16"/>
<rect x="25.2" y="331.5" width="2.0" height="2.2" fill="#7186e2" opacity="0.17"/>
<rect x="289.9" y="493.2" width="1.3" height="2.4" fill="#7186e2" opacity="0.17"/>
<rect x="83.3" y="300.3" width="1.7" height="1.7" fill="#7186e2" opacity="0.08"/>
<rect x="338.2" y="635.1" width="1.1" height="2.1" fill="#7186e2" opacity="0.19"/>
<rect x="286.3" y="517.7" width="2.4" height="2.4" fill="#7186e2" opacity="0.16"/>
<rect x="295.6" y="548.2" width="1.5" height="1.4" fill="#7186e2" opacity="0.11"/>
<rect x="128.5" y="442.3" width="1.1" height="1.2" fill="#7186e2" opacity="0.10"/>
<rect x="93.0" y="406.5" width="2.2" height="1.5" fill="#7186e2" opacity="0.16"/>
<rect x="344.4" y="618.4" width="1.0" height="1.9" fill="#7186e2" opacity="0.14"/>
<rect x="75.8" y="385.2" width="1.8" height="1.8" fill="#7186e2" opacity="0.18"/>
<rect x="347.3" y="591.9" width="1.4" height="1.8" fill="#7186e2" opacity="0.07"/>
<rect x="328.1" y="592.7" width="1.6" height="2.3" fill="#7186e2" opacity="0.19"/>
<rect x="315.4" y="599.9" width="1.9" height="2.4" fill="#7186e2" opacity="0.15"/>
<rect x="148.5" y="429.9" width="2.2" height="1.7" fill="#7186e2" opacity="0.14"/>
<rect x="184.9" y="489.8" width="1.2" height="2.0" fill="#7186e2" opacity="0.12"/>
<rect x="74.7" y="331.2" width="1.7" height="1.4" fill="#7186e2" opacity="0.19"/>
<rect x="94.0" y="359.4" width="1.5" height="2.0" fill="#7186e2" opacity="0.13"/>
<rect x="264.9" y="532.3" width="1.9" height="1.9" fill="#7186e2" opacity="0.10"/>
<rect x="365.7" y="630.0" width="2.3" height="1.3" fill="#7186e2" opacity="0.12"/>
<rect x="259.6" y="522.4" width="2.3" height="1.3" fill="#7186e2" opacity="0.10"/>
<rect x="208.1" y="463.3" width="2.1" height="2.5" fill="#7186e2" opacity="0.07"/>
<rect x="165.1" y="404.9" width="2.2" height="2.2" fill="#7186e2" opacity="0.19"/>
<rect x="139.3" y="407.8" width="2.2" height="2.2" fill="#7186e2" opacity="0.13"/>
<rect x="59.1" y="368.8" width="2.0" height="1.4" fill="#7186e2" opacity="0.06"/>
<rect x="219.6" y="510.6" width="1.7" height="1.8" fill="#7186e2" opacity="0.15"/>
<rect x="79.9" y="361.0" width="2.2" height="1.8" fill="#7186e2" opacity="0.14"/>
<rect x="332.1" y="560.6" width="2.0" height="1.4" fill="#7186e2" opacity="0.18"/>
<rect x="83.4" y="343.3" width="1.7" height="1.2" fill="#7186e2" opacity="0.19"/>
<rect x="239.3" y="559.3" width="1.0" height="1.5" fill="#7186e2" opacity="0.11"/>
<rect x="117.2" y="381.9" width="1.1" height="2.3" fill="#7186e2" opacity="0.14"/>
<rect x="193.2" y="441.5" width="2.3" height="2.0" fill="#7186e2" opacity="0.18"/>
<rect x="138.5" y="398.3" width="1.7" height="1.9" fill="#7186e2" opacity="0.09"/>
<rect x="227.8" y="519.8" width="2.4" height="2.1" fill="#7186e2" opacity="0.06"/>
<rect x="193.0" y="454.8" width="2.5" height="2.2" fill="#7186e2" opacity="0.14"/>
<rect x="208.9" y="470.2" width="2.0" height="1.6" fill="#7186e2" opacity="0.14"/>
<rect x="204.8" y="455.0" width="1.1" height="1.9" fill="#7186e2" opacity="0.09"/>
<rect x="111.8" y="405.9" width="1.2" height="2.1" fill="#7186e2" opacity="0.12"/>
<rect x="233.2" y="464.2" width="1.5" height="1.4" fill="#7186e2" opacity="0.17"/>
<rect x="288.8" y="554.4" width="1.2" height="1.2" fill="#7186e2" opacity="0.11"/>
<rect x="315.8" y="576.6" width="1.6" height="1.8" fill="#7186e2" opacity="0.15"/>
<rect x="132.5" y="419.3" width="1.6" height="2.5" fill="#7186e2" opacity="0.17"/>
<rect x="94.0" y="346.2" width="2.5" height="1.4" fill="#7186e2" opacity="0.19"/>
<rect x="92.9" y="360.3" width="1.3" height="1.5" fill="#7186e2" opacity="0.11"/>
<rect x="142.0" y="387.8" width="1.2" height="1.9" fill="#7186e2" opacity="0.16"/>
<rect x="95.7" y="381.7" width="1.2" height="1.1" fill="#7186e2" opacity="0.09"/>
<rect x="208.8" y="430.0" width="2.2" height="1.2" fill="#7186e2" opacity="0.10"/>
<rect x="85.0" y="306.6" width="1.1" height="1.0" fill="#7186e2" opacity="0.14"/>
<rect x="377.7" y="652.0" width="1.4" height="1.5" fill="#7186e2" opacity="0.18"/>
<rect x="48.7" y="316.0" width="1.7" height="2.3" fill="#7186e2" opacity="0.17"/>
<rect x="78.9" y="305.1" width="1.2" height="2.3" fill="#7186e2" opacity="0.15"/>
<rect x="150.8" y="414.2" width="1.5" height="1.1" fill="#7186e2" opacity="0.19"/>
<rect x="83.3" y="314.6" width="1.9" height="2.2" fill="#7186e2" opacity="0.10"/>
<rect x="266.7" y="512.3" width="1.3" height="2.1" fill="#7186e2" opacity="0.17"/>
<rect x="189.0" y="451.8" width="1.0" height="1.3" fill="#7186e2" opacity="0.09"/>
<rect x="275.9" y="502.4" width="2.2" height="1.3" fill="#7186e2" opacity="0.19"/>
<rect x="85.2" y="304.2" width="1.4" height="2.3" fill="#7186e2" opacity="0.07"/>
<rect x="121.8" y="413.4" width="2.3" height="2.0" fill="#7186e2" opacity="0.08"/>
<rect x="198.3" y="459.8" width="2.4" height="1.0" fill="#7186e2" opacity="0.19"/>
<rect x="277.4" y="544.5" width="2.0" height="1.6" fill="#7186e2" opacity="0.09"/>
<rect x="199.6" y="479.8" width="1.7" height="1.9" fill="#7186e2" opacity="0.20"/>
<rect x="281.1" y="545.6" width="2.4" height="2.1" fill="#7186e2" opacity="0.12"/>
<rect x="15.0" y="294.8" width="1.1" height="1.1" fill="#7186e2" opacity="0.12"/>
<rect x="316.6" y="595.8" width="1.6" height="1.4" fill="#7186e2" opacity="0.12"/>
<rect x="136.7" y="367.4" width="1.8" height="2.0" fill="#7186e2" opacity="0.07"/>
<rect x="15.4" y="325.2" width="1.0" height="2.4" fill="#7186e2" opacity="0.11"/>
<rect x="160.2" y="429.9" width="1.9" height="2.3" fill="#7186e2" opacity="0.13"/>
<rect x="67.9" y="349.4" width="2.1" height="2.0" fill="#7186e2" opacity="0.17"/>
<rect x="258.2" y="513.4" width="1.8" height="2.2" fill="#7186e2" opacity="0.16"/>
<rect x="97.5" y="399.1" width="1.9" height="2.0" fill="#7186e2" opacity="0.10"/>
<rect x="239.6" y="492.9" width="1.3" height="1.4" fill="#7186e2" opacity="0.16"/>
<rect x="168.5" y="444.9" width="2.2" height="1.5" fill="#7186e2" opacity="0.18"/>
<rect x="383.6" y="627.6" width="1.4" height="1.7" fill="#7186e2" opacity="0.11"/>
<rect x="164.1" y="388.7" width="2.5" height="1.5" fill="#7186e2" opacity="0.20"/>
<rect x="291.8" y="556.6" width="1.6" height="1.7" fill="#7186e2" opacity="0.19"/>
<rect x="254.7" y="552.5" width="1.7" height="1.9" fill="#7186e2" opacity="0.11"/>
<rect x="59.6" y="288.8" width="2.2" height="1.1" fill="#7186e2" opacity="0.15"/>
<rect x="305.0" y="605.9" width="1.9" height="2.4" fill="#7186e2" opacity="0.10"/>
<rect x="73.5" y="336.7" width="2.3" height="1.7" fill="#7186e2" opacity="0.15"/>
<rect x="203.2" y="475.0" width="1.8" height="1.6" fill="#7186e2" opacity="0.17"/>
<rect x="345.3" y="649.7" width="1.7" height="1.9" fill="#7186e2" opacity="0.19"/>
<rect x="137.2" y="403.5" width="1.0" height="1.8" fill="#7186e2" opacity="0.18"/>
<rect x="65.0" y="311.1" width="1.9" height="1.5" fill="#7186e2" opacity="0.17"/>
<rect x="327.5" y="628.3" width="2.1" height="2.3" fill="#7186e2" opacity="0.08"/>
<rect x="168.7" y="417.2" width="1.6" height="2.4" fill="#7186e2" opacity="0.16"/>
<rect x="82.5" y="363.0" width="2.0" height="2.0" fill="#7186e2" opacity="0.10"/>
<rect x="141.9" y="431.0" width="2.1" height="1.5" fill="#7186e2" opacity="0.10"/>
<rect x="103.7" y="394.4" width="2.5" height="1.4" fill="#7186e2" opacity="0.12"/>
<rect x="98.5" y="318.0" width="2.3" height="1.9" fill="#7186e2" opacity="0.19"/>
<rect x="120.7" y="391.8" width="2.0" height="1.6" fill="#7186e2" opacity="0.10"/>
<rect x="162.3" y="441.2" width="1.2" height="2.1" fill="#7186e2" opacity="0.16"/>
<rect x="17.6" y="323.6" width="1.6" height="2.0" fill="#7186e2" opacity="0.15"/>
<rect x="248.2" y="562.6" width="1.2" height="1.0" fill="#7186e2" opacity="0.17"/>
<rect x="176.6" y="449.1" width="1.3" height="1.2" fill="#7186e2" opacity="0.11"/>
<rect x="264.1" y="565.4" width="1.7" height="2.3" fill="#7186e2" opacity="0.12"/>
<rect x="72.7" y="347.9" width="1.9" height="1.1" fill="#7186e2" opacity="0.07"/>
<rect x="355.3" y="599.4" width="1.3" height="1.2" fill="#7186e2" opacity="0.12"/>
<rect x="171.5" y="429.7" width="2.4" height="1.7" fill="#7186e2" opacity="0.11"/>
<rect x="201.5" y="459.7" width="1.6" height="1.3" fill="#7186e2" opacity="0.11"/>
<rect x="308.4" y="608.1" width="1.1" height="1.9" fill="#7186e2" opacity="0.19"/>
<rect x="236.1" y="450.0" width="2.1" height="1.5" fill="#7186e2" opacity="0.06"/>
<rect x="362.1" y="645.6" width="1.7" height="1.5" fill="#7186e2" opacity="0.06"/>
<rect x="93.7" y="358.1" width="1.2" height="2.1" fill="#7186e2" opacity="0.17"/>
<rect x="247.2" y="501.6" width="1.4" height="1.8" fill="#7186e2" opacity="0.07"/>
<rect x="66.3" y="340.9" width="1.6" height="1.4" fill="#7186e2" opacity="0.20"/>
<rect x="141.9" y="409.6" width="2.5" height="1.6" fill="#7186e2" opacity="0.08"/>
<rect x="155.4" y="453.3" width="1.2" height="1.3" fill="#7186e2" opacity="0.08"/>
<rect x="134.1" y="415.2" width="2.5" height="1.8" fill="#7186e2" opacity="0.15"/>
<rect x="329.2" y="560.2" width="1.0" height="1.8" fill="#7186e2" opacity="0.18"/>
<rect x="147.6" y="433.4" width="1.2" height="2.4" fill="#7186e2" opacity="0.17"/>
<rect x="131.9" y="420.5" width="1.7" height="1.4" fill="#7186e2" opacity="0.18"/>
<rect x="226.2" y="512.7" width="2.2" height="1.8" fill="#7186e2" opacity="0.19"/>
<rect x="254.6" y="490.5" width="2.3" height="1.9" fill="#7186e2" opacity="0.14"/>
<rect x="73.7" y="341.8" width="2.3" height="2.0" fill="#7186e2" opacity="0.20"/>
<rect x="166.3" y="437.1" width="1.5" height="1.8" fill="#7186e2" opacity="0.09"/>
<rect x="288.6" y="565.7" width="1.3" height="2.4" fill="#7186e2" opacity="0.08"/>
<rect x="79.7" y="384.0" width="2.3" height="2.0" fill="#7186e2" opacity="0.09"/>
<rect x="332.3" y="634.1" width="2.0" height="1.4" fill="#7186e2" opacity="0.19"/>
<rect x="303.2" y="567.0" width="1.0" height="1.2" fill="#7186e2" opacity="0.07"/>
<rect x="324.6" y="627.2" width="1.7" height="1.9" fill="#7186e2" opacity="0.19"/>
<rect x="119.9" y="402.1" width="2.4" height="1.5" fill="#7186e2" opacity="0.07"/>
<rect x="36.1" y="321.2" width="1.6" height="2.3" fill="#7186e2" opacity="0.09"/>
<rect x="309.1" y="527.6" width="1.9" height="1.4" fill="#7186e2" opacity="0.11"/>
<rect x="214.6" y="541.7" width="1.6" height="1.7" fill="#7186e2" opacity="0.19"/>
<rect x="356.9" y="661.0" width="2.3" height="1.6" fill="#7186e2" opacity="0.11"/>
<rect x="352.7" y="558.2" width="1.2" height="2.2" fill="#7186e2" opacity="0.16"/>
<rect x="392.8" y="629.3" width="1.4" height="1.9" fill="#7186e2" opacity="0.18"/>
<rect x="184.8" y="483.2" width="1.2" height="1.2" fill="#7186e2" opacity="0.20"/>
<rect x="189.5" y="487.6" width="2.4" height="2.4" fill="#7186e2" opacity="0.08"/>
<rect x="99.5" y="369.0" width="1.2" height="1.1" fill="#7186e2" opacity="0.18"/>
<rect x="354.3" y="605.1" width="2.3" height="1.6" fill="#7186e2" opacity="0.09"/>
<rect x="214.9" y="501.9" width="2.4" height="2.5" fill="#7186e2" opacity="0.11"/>
<rect x="96.2" y="368.2" width="1.9" height="2.4" fill="#7186e2" opacity="0.14"/>
<rect x="214.4" y="460.1" width="1.4" height="1.5" fill="#7186e2" opacity="0.13"/>
<rect x="190.1" y="420.1" width="2.5" height="1.3" fill="#7186e2" opacity="0.06"/>
<rect x="222.6" y="557.1" width="1.2" height="2.5" fill="#7186e2" opacity="0.19"/>
<rect x="111.1" y="368.6" width="1.4" height="1.3" fill="#7186e2" opacity="0.13"/>
<rect x="223.7" y="499.9" width="1.8" height="1.2" fill="#7186e2" opacity="0.15"/>
<rect x="57.1" y="357.2" width="1.7" height="1.3" fill="#7186e2" opacity="0.08"/>
<rect x="230.3" y="510.7" width="1.2" height="1.3" fill="#7186e2" opacity="0.18"/>
<rect x="226.2" y="462.5" width="1.4" height="1.6" fill="#7186e2" opacity="0.08"/>
<rect x="232.7" y="549.8" width="1.3" height="1.5" fill="#7186e2" opacity="0.20"/>
<rect x="32.4" y="302.8" width="1.5" height="1.9" fill="#7186e2" opacity="0.15"/>
<rect x="329.1" y="609.6" width="2.2" height="1.4" fill="#7186e2" opacity="0.17"/>
<rect x="329.9" y="569.8" width="1.0" height="2.2" fill="#7186e2" opacity="0.11"/>
<rect x="55.3" y="337.1" width="2.2" height="2.3" fill="#7186e2" opacity="0.15"/>
<rect x="146.1" y="431.7" width="1.4" height="1.3" fill="#7186e2" opacity="0.07"/>
<rect x="185.9" y="423.8" width="2.1" height="2.3" fill="#7186e2" opacity="0.14"/>
<rect x="296.4" y="523.7" width="1.9" height="2.0" fill="#7186e2" opacity="0.17"/>
<rect x="47.0" y="334.2" width="1.6" height="1.7" fill="#7186e2" opacity="0.07"/>
<rect x="263.1" y="535.5" width="1.9" height="1.5" fill="#7186e2" opacity="0.18"/>
<rect x="112.3" y="340.4" width="1.4" height="1.3" fill="#7186e2" opacity="0.07"/>
<rect x="153.0" y="489.6" width="1.9" height="1.5" fill="#7186e2" opacity="0.14"/>
<rect x="257.7" y="438.5" width="2.1" height="1.1" fill="#7186e2" opacity="0.19"/>
<rect x="285.3" y="521.6" width="2.2" height="2.3" fill="#7186e2" opacity="0.18"/>
<rect x="101.2" y="336.0" width="1.8" height="2.2" fill="#7186e2" opacity="0.12"/>
<rect x="278.4" y="570.3" width="1.6" height="1.5" fill="#7186e2" opacity="0.15"/>
<rect x="181.9" y="430.2" width="1.6" height="1.5" fill="#7186e2" opacity="0.11"/>
<rect x="226.5" y="517.2" width="1.2" height="1.6" fill="#7186e2" opacity="0.15"/>
<rect x="150.8" y="424.9" width="1.7" height="1.7" fill="#7186e2" opacity="0.11"/>
<rect x="201.9" y="447.9" width="2.4" height="2.4" fill="#7186e2" opacity="0.08"/>
<rect x="318.8" y="564.5" width="1.3" height="1.4" fill="#7186e2" opacity="0.12"/>
<rect x="62.1" y="306.2" width="2.3" height="2.3" fill="#7186e2" opacity="0.20"/>
<rect x="38.6" y="345.3" width="1.9" height="1.4" fill="#7186e2" opacity="0.16"/>
<rect x="238.3" y="568.3" width="2.1" height="2.3" fill="#7186e2" opacity="0.09"/>
<rect x="118.7" y="349.0" width="1.8" height="1.9" fill="#7186e2" opacity="0.13"/>
<rect x="354.2" y="604.2" width="1.1" height="1.7" fill="#7186e2" opacity="0.17"/>
<rect x="330.6" y="595.1" width="2.2" height="2.4" fill="#7186e2" opacity="0.15"/>
<rect x="115.5" y="394.9" width="1.7" height="1.3" fill="#7186e2" opacity="0.19"/>
<rect x="34.7" y="337.6" width="1.3" height="1.3" fill="#7186e2" opacity="0.13"/>
<rect x="287.0" y="559.0" width="2.1" height="2.4" fill="#7186e2" opacity="0.13"/>
<rect x="358.6" y="645.7" width="1.9" height="1.7" fill="#7186e2" opacity="0.10"/>
<rect x="99.5" y="324.3" width="2.0" height="2.1" fill="#7186e2" opacity="0.18"/>
<rect x="336.0" y="649.1" width="1.5" height="1.3" fill="#7186e2" opacity="0.06"/>
<rect x="266.2" y="560.9" width="2.2" height="1.2" fill="#7186e2" opacity="0.18"/>
<rect x="131.5" y="440.7" width="1.8" height="2.3" fill="#7186e2" opacity="0.07"/>
<rect x="96.6" y="362.9" width="2.3" height="1.7" fill="#7186e2" opacity="0.08"/>
<rect x="327.6" y="648.9" width="1.4" height="1.9" fill="#7186e2" opacity="0.19"/>
<rect x="304.1" y="546.5" width="1.8" height="1.8" fill="#7186e2" opacity="0.12"/>
<rect x="284.5" y="524.2" width="2.4" height="1.0" fill="#7186e2" opacity="0.09"/>
<rect x="263.9" y="552.1" width="1.6" height="1.4" fill="#7186e2" opacity="0.15"/>
<rect x="104.6" y="387.0" width="1.9" height="1.3" fill="#7186e2" opacity="0.07"/>
<rect x="328.3" y="565.1" width="1.2" height="1.8" fill="#7186e2" opacity="0.14"/>
<rect x="168.7" y="418.2" width="1.9" height="1.1" fill="#7186e2" opacity="0.11"/>
<rect x="279.1" y="578.6" width="1.9" height="1.4" fill="#7186e2" opacity="0.13"/>
<rect x="175.9" y="458.1" width="2.2" height="2.0" fill="#7186e2" opacity="0.10"/>
<rect x="165.0" y="441.0" width="1.3" height="1.1" fill="#7186e2" opacity="0.10"/>
<rect x="145.9" y="403.9" width="2.2" height="1.7" fill="#7186e2" opacity="0.06"/>
<rect x="261.3" y="536.9" width="1.2" height="2.0" fill="#7186e2" opacity="0.12"/>
<rect x="212.8" y="446.1" width="1.4" height="1.2" fill="#7186e2" opacity="0.14"/>
<rect x="278.8" y="589.8" width="1.3" height="1.8" fill="#7186e2" opacity="0.16"/>
<rect x="53.6" y="336.1" width="1.8" height="1.4" fill="#7186e2" opacity="0.17"/>
<rect x="244.7" y="492.1" width="1.6" height="1.5" fill="#7186e2" opacity="0.17"/>
<rect x="131.4" y="400.4" width="2.3" height="2.3" fill="#7186e2" opacity="0.17"/>
<rect x="175.1" y="475.3" width="1.4" height="1.5" fill="#7186e2" opacity="0.11"/>
<rect x="134.1" y="379.7" width="1.4" height="1.5" fill="#7186e2" opacity="0.19"/>
<rect x="314.8" y="595.0" width="1.1" height="2.2" fill="#7186e2" opacity="0.10"/>
<rect x="256.3" y="480.3" width="2.4" height="2.1" fill="#7186e2" opacity="0.08"/>
<rect x="123.3" y="363.3" width="1.4" height="1.1" fill="#7186e2" opacity="0.10"/>
<rect x="90.9" y="397.4" width="2.3" height="2.4" fill="#7186e2" opacity="0.18"/>
<rect x="292.1" y="554.5" width="1.5" height="1.5" fill="#7186e2" opacity="0.12"/>
<rect x="336.6" y="594.4" width="2.2" height="1.1" fill="#7186e2" opacity="0.15"/>
<rect x="19.4" y="319.4" width="1.4" height="2.0" fill="#7186e2" opacity="0.16"/>
<rect x="383.5" y="619.3" width="2.2" height="1.3" fill="#7186e2" opacity="0.20"/>
<rect x="295.4" y="546.3" width="1.5" height="2.1" fill="#7186e2" opacity="0.19"/>
<rect x="191.3" y="470.7" width="2.3" height="1.5" fill="#7186e2" opacity="0.18"/>
<rect x="371.5" y="630.3" width="1.4" height="1.2" fill="#7186e2" opacity="0.17"/>
<rect x="326.5" y="569.7" width="1.3" height="1.2" fill="#7186e2" opacity="0.19"/>
<rect x="328.2" y="591.1" width="2.2" height="1.4" fill="#7186e2" opacity="0.13"/>
<rect x="80.9" y="348.8" width="2.3" height="1.9" fill="#7186e2" opacity="0.06"/>
<rect x="268.5" y="542.7" width="1.4" height="1.8" fill="#7186e2" opacity="0.15"/>
<rect x="146.8" y="462.7" width="1.2" height="1.6" fill="#7186e2" opacity="0.07"/>
<rect x="326.6" y="593.6" width="1.7" height="1.7" fill="#7186e2" opacity="0.15"/>
<rect x="185.2" y="456.7" width="1.1" height="1.0" fill="#7186e2" opacity="0.20"/>
<rect x="235.8" y="488.7" width="2.1" height="2.2" fill="#7186e2" opacity="0.14"/>
<rect x="89.2" y="370.2" width="1.5" height="2.3" fill="#7186e2" opacity="0.12"/>
<rect x="264.1" y="569.2" width="2.3" height="2.3" fill="#7186e2" opacity="0.18"/>
<rect x="154.7" y="426.8" width="1.5" height="1.7" fill="#7186e2" opacity="0.12"/>
<rect x="250.8" y="467.7" width="2.5" height="1.7" fill="#7186e2" opacity="0.16"/>
<rect x="355.1" y="660.8" width="2.4" height="1.7" fill="#7186e2" opacity="0.10"/>
<rect x="13.0" y="312.5" width="1.2" height="1.7" fill="#7186e2" opacity="0.18"/>
<rect x="129.5" y="407.2" width="1.8" height="2.4" fill="#7186e2" opacity="0.12"/>
<rect x="320.7" y="611.6" width="1.4" height="2.1" fill="#7186e2" opacity="0.13"/>
<rect x="102.4" y="364.1" width="1.5" height="2.0" fill="#7186e2" opacity="0.11"/>
<rect x="269.8" y="533.1" width="1.5" height="2.2" fill="#7186e2" opacity="0.09"/>
<rect x="71.2" y="361.0" width="1.1" height="2.0" fill="#7186e2" opacity="0.18"/>
<rect x="111.3" y="421.5" width="1.7" height="1.7" fill="#7186e2" opacity="0.18"/>
<rect x="238.6" y="502.8" width="2.1" height="1.3" fill="#7186e2" opacity="0.14"/>
<rect x="319.5" y="580.9" width="1.4" height="1.3" fill="#7186e2" opacity="0.11"/>
<rect x="106.6" y="397.1" width="1.0" height="1.6" fill="#7186e2" opacity="0.12"/>
<rect x="247.8" y="505.8" width="1.2" height="1.7" fill="#7186e2" opacity="0.07"/>
<rect x="186.1" y="519.4" width="1.5" height="1.7" fill="#7186e2" opacity="0.09"/>
<rect x="154.4" y="410.7" width="1.4" height="1.2" fill="#7186e2" opacity="0.12"/>
<rect x="93.2" y="341.4" width="2.0" height="1.7" fill="#7186e2" opacity="0.09"/>
<rect x="258.6" y="560.0" width="1.7" height="1.9" fill="#7186e2" opacity="0.14"/>
<rect x="394.8" y="659.3" width="1.8" height="1.1" fill="#7186e2" opacity="0.15"/>
<rect x="239.7" y="472.6" width="2.2" height="1.7" fill="#7186e2" opacity="0.10"/>
<rect x="28.3" y="315.8" width="1.6" height="1.9" fill="#7186e2" opacity="0.06"/>
<rect x="368.7" y="617.6" width="1.8" height="2.1" fill="#7186e2" opacity="0.13"/>
<rect x="148.4" y="404.6" width="2.3" height="2.1" fill="#7186e2" opacity="0.20"/>
<rect x="161.3" y="418.2" width="1.5" height="2.2" fill="#7186e2" opacity="0.19"/>
<rect x="341.9" y="603.7" width="1.3" height="1.5" fill="#7186e2" opacity="0.15"/>
<rect x="361.1" y="629.9" width="1.5" height="1.5" fill="#7186e2" opacity="0.09"/>
<rect x="46.8" y="331.6" width="1.4" height="2.3" fill="#7186e2" opacity="0.17"/>
<rect x="321.2" y="558.0" width="1.6" height="1.5" fill="#7186e2" opacity="0.09"/>
<rect x="214.8" y="461.8" width="2.4" height="1.0" fill="#7186e2" opacity="0.08"/>
<rect x="308.9" y="594.1" width="1.7" height="1.9" fill="#7186e2" opacity="0.15"/>
<rect x="311.8" y="613.3" width="2.0" height="1.9" fill="#7186e2" opacity="0.09"/>
<rect x="273.8" y="503.1" width="1.8" height="2.1" fill="#7186e2" opacity="0.08"/>
<rect x="366.4" y="646.2" width="2.4" height="2.4" fill="#7186e2" opacity="0.07"/>
<rect x="126.5" y="386.3" width="1.8" height="2.3" fill="#7186e2" opacity="0.18"/>
<rect x="66.2" y="354.7" width="1.1" height="2.4" fill="#7186e2" opacity="0.11"/>
<rect x="286.5" y="527.1" width="1.3" height="1.3" fill="#7186e2" opacity="0.10"/>
<rect x="363.9" y="560.3" width="2.2" height="2.5" fill="#7186e2" opacity="0.18"/>
<rect x="297.9" y="535.0" width="1.7" height="2.2" fill="#7186e2" opacity="0.07"/>
<rect x="104.1" y="391.5" width="1.0" height="1.8" fill="#7186e2" opacity="0.19"/>
<rect x="278.0" y="589.1" width="2.1" height="1.3" fill="#7186e2" opacity="0.13"/>
<rect x="25.2" y="285.4" width="1.5" height="1.8" fill="#7186e2" opacity="0.16"/>
<rect x="114.3" y="383.9" width="2.1" height="1.8" fill="#7186e2" opacity="0.15"/>
<rect x="286.7" y="606.2" width="2.4" height="2.2" fill="#7186e2" opacity="0.17"/>
<rect x="325.9" y="592.1" width="1.3" height="1.6" fill="#7186e2" opacity="0.13"/>
<rect x="177.5" y="411.0" width="2.2" height="2.0" fill="#7186e2" opacity="0.14"/>
<rect x="97.7" y="373.0" width="1.7" height="2.0" fill="#7186e2" opacity="0.15"/>
<rect x="161.9" y="423.2" width="1.4" height="1.5" fill="#7186e2" opacity="0.17"/>
<rect x="167.3" y="400.2" width="1.4" height="2.5" fill="#9fb2f2" opacity="0.35" filter="url(#b05)"/>
<rect x="212.0" y="399.1" width="1.6" height="1.6" fill="#9fb2f2" opacity="0.3" filter="url(#b05)"/>
<rect x="134.5" y="458.3" width="4" height="1.2" fill="#9fb2f2" opacity="0.35" filter="url(#b05)"/>
<rect x="240.2" y="465.4" width="1.5" height="1.5" fill="#9fb2f2" opacity="0.35" filter="url(#b05)"/>
<rect x="239.5" y="506.7" width="3" height="2" fill="#9fb2f2" opacity="0.55" filter="url(#b05)"/>
<rect x="159.9" y="556.0" width="3" height="3" fill="#9fb2f2" opacity="0.3" filter="url(#b05)"/>
<rect x="59.2" y="429.2" width="1.5" height="1.5" fill="#9fb2f2" opacity="0.2" filter="url(#b05)"/>
<rect x="299.2" y="329.2" width="1.5" height="1.5" fill="#9fb2f2" opacity="0.2" filter="url(#b05)"/>
<rect x="117.3" y="329.4" width="1.3" height="1.3" fill="#9fb2f2" opacity="0.25" filter="url(#b05)"/>
<circle cx="73.0" cy="340.9" r="0.84" fill="#92a6f0" opacity="0.26" filter="url(#b05)"/>
<circle cx="315.0" cy="582.6" r="1.00" fill="#92a6f0" opacity="0.35" filter="url(#b05)"/>
<circle cx="204.2" cy="472.4" r="0.79" fill="#92a6f0" opacity="0.38" filter="url(#b05)"/>
<circle cx="36.1" cy="304.3" r="1.00" fill="#92a6f0" opacity="0.27" filter="url(#b05)"/>
<circle cx="99.1" cy="369.0" r="0.97" fill="#92a6f0" opacity="0.46" filter="url(#b05)"/>
<circle cx="246.9" cy="515.5" r="0.62" fill="#92a6f0" opacity="0.30" filter="url(#b05)"/>
<circle cx="201.3" cy="470.4" r="0.78" fill="#92a6f0" opacity="0.25" filter="url(#b05)"/>
<circle cx="324.6" cy="593.7" r="0.66" fill="#92a6f0" opacity="0.48" filter="url(#b05)"/>
<circle cx="184.1" cy="451.9" r="0.84" fill="#92a6f0" opacity="0.26" filter="url(#b05)"/>
<circle cx="23.7" cy="291.8" r="1.03" fill="#92a6f0" opacity="0.27" filter="url(#b05)"/>
<circle cx="310.3" cy="578.8" r="1.05" fill="#92a6f0" opacity="0.43" filter="url(#b05)"/>
<circle cx="303.5" cy="573.0" r="0.89" fill="#92a6f0" opacity="0.42" filter="url(#b05)"/>
<circle cx="56.6" cy="323.9" r="0.70" fill="#92a6f0" opacity="0.48" filter="url(#b05)"/>
<circle cx="351.6" cy="620.0" r="0.80" fill="#92a6f0" opacity="0.31" filter="url(#b05)"/>
<circle cx="183.4" cy="450.4" r="0.79" fill="#92a6f0" opacity="0.21" filter="url(#b05)"/>
<circle cx="45.4" cy="314.6" r="0.96" fill="#92a6f0" opacity="0.50" filter="url(#b05)"/>
<circle cx="200.7" cy="468.2" r="0.97" fill="#92a6f0" opacity="0.27" filter="url(#b05)"/>
<circle cx="244.2" cy="512.4" r="0.88" fill="#92a6f0" opacity="0.39" filter="url(#b05)"/>
<circle cx="79.1" cy="347.5" r="1.06" fill="#92a6f0" opacity="0.30" filter="url(#b05)"/>
<circle cx="239.7" cy="508.3" r="0.75" fill="#92a6f0" opacity="0.23" filter="url(#b05)"/>
<circle cx="34.7" cy="303.2" r="0.79" fill="#92a6f0" opacity="0.41" filter="url(#b05)"/>
<circle cx="270.0" cy="537.4" r="1.05" fill="#92a6f0" opacity="0.49" filter="url(#b05)"/>
<circle cx="166.3" cy="435.8" r="0.90" fill="#92a6f0" opacity="0.46" filter="url(#b05)"/>
<circle cx="198.7" cy="466.8" r="0.79" fill="#92a6f0" opacity="0.27" filter="url(#b05)"/>
<circle cx="347.2" cy="615.5" r="1.00" fill="#92a6f0" opacity="0.43" filter="url(#b05)"/>
<circle cx="195.7" cy="464.1" r="1.02" fill="#92a6f0" opacity="0.22" filter="url(#b05)"/>
<circle cx="108.9" cy="376.9" r="0.69" fill="#92a6f0" opacity="0.22" filter="url(#b05)"/>
<circle cx="139.8" cy="408.5" r="1.05" fill="#92a6f0" opacity="0.50" filter="url(#b05)"/>
<circle cx="297.0" cy="564.8" r="1.08" fill="#92a6f0" opacity="0.36" filter="url(#b05)"/>
<circle cx="290.4" cy="558.6" r="0.61" fill="#92a6f0" opacity="0.26" filter="url(#b05)"/>
<circle cx="332.6" cy="601.1" r="0.90" fill="#92a6f0" opacity="0.33" filter="url(#b05)"/>
<circle cx="233.5" cy="500.7" r="1.02" fill="#92a6f0" opacity="0.29" filter="url(#b05)"/>
<circle cx="215.4" cy="483.5" r="0.61" fill="#92a6f0" opacity="0.41" filter="url(#b05)"/>
<circle cx="377.3" cy="646.3" r="0.61" fill="#92a6f0" opacity="0.38" filter="url(#b05)"/>
<circle cx="257.7" cy="526.3" r="0.73" fill="#92a6f0" opacity="0.32" filter="url(#b05)"/>
<circle cx="379.1" cy="646.7" r="1.05" fill="#92a6f0" opacity="0.24" filter="url(#b05)"/>
<circle cx="46.0" cy="314.3" r="0.82" fill="#92a6f0" opacity="0.24" filter="url(#b05)"/>
<circle cx="343.8" cy="612.1" r="0.93" fill="#92a6f0" opacity="0.24" filter="url(#b05)"/>
<circle cx="217.1" cy="485.0" r="0.71" fill="#92a6f0" opacity="0.25" filter="url(#b05)"/>
<circle cx="80.3" cy="349.0" r="0.79" fill="#92a6f0" opacity="0.41" filter="url(#b05)"/>
<circle cx="221.5" cy="490.4" r="1.04" fill="#92a6f0" opacity="0.43" filter="url(#b05)"/>
<circle cx="314.3" cy="582.7" r="0.60" fill="#92a6f0" opacity="0.34" filter="url(#b05)"/>
<circle cx="33.9" cy="302.1" r="0.96" fill="#92a6f0" opacity="0.28" filter="url(#b05)"/>
<circle cx="278.1" cy="546.0" r="0.76" fill="#92a6f0" opacity="0.21" filter="url(#b05)"/>
<circle cx="159.3" cy="427.2" r="0.75" fill="#92a6f0" opacity="0.35" filter="url(#b05)"/>
<circle cx="221.2" cy="490.4" r="1.07" fill="#92a6f0" opacity="0.23" filter="url(#b05)"/>
<circle cx="241.2" cy="508.6" r="1.08" fill="#92a6f0" opacity="0.29" filter="url(#b05)"/>
<circle cx="279.1" cy="547.3" r="0.86" fill="#92a6f0" opacity="0.37" filter="url(#b05)"/>
<circle cx="34.0" cy="302.7" r="0.78" fill="#92a6f0" opacity="0.30" filter="url(#b05)"/>
<circle cx="392.4" cy="659.3" r="0.65" fill="#92a6f0" opacity="0.22" filter="url(#b05)"/>
<circle cx="37.7" cy="306.2" r="0.82" fill="#92a6f0" opacity="0.39" filter="url(#b05)"/>
<circle cx="17.0" cy="284.5" r="0.92" fill="#92a6f0" opacity="0.33" filter="url(#b05)"/>
<circle cx="208.9" cy="476.7" r="0.71" fill="#92a6f0" opacity="0.21" filter="url(#b05)"/>
<circle cx="176.7" cy="445.2" r="0.72" fill="#92a6f0" opacity="0.41" filter="url(#b05)"/>
<circle cx="324.5" cy="592.7" r="0.72" fill="#92a6f0" opacity="0.32" filter="url(#b05)"/>
<circle cx="197.1" cy="464.8" r="0.92" fill="#92a6f0" opacity="0.49" filter="url(#b05)"/>
<circle cx="42.3" cy="310.0" r="0.96" fill="#92a6f0" opacity="0.47" filter="url(#b05)"/>
<circle cx="310.0" cy="578.3" r="0.91" fill="#92a6f0" opacity="0.43" filter="url(#b05)"/>
<circle cx="267.0" cy="535.7" r="0.94" fill="#92a6f0" opacity="0.27" filter="url(#b05)"/>
<circle cx="362.9" cy="630.5" r="0.79" fill="#92a6f0" opacity="0.38" filter="url(#b05)"/>
<rect x="28.5" y="296.5" width="39.1" height="39.3" fill="#6a80e6" opacity="0.10" filter="url(#b1)"/>
<line x1="28.5" x2="28.5" y1="292.5" y2="357.8" stroke="#9fb0f2" stroke-width="0.9" opacity="0.13"/>
<line x1="67.6" x2="67.6" y1="292.5" y2="357.8" stroke="#9fb0f2" stroke-width="0.9" opacity="0.13"/>
<line x1="28.5" y1="296.5" x2="67.6" y2="335.8" stroke="#7f95ea" stroke-width="6" opacity="0.5" filter="url(#b2)" stroke-linecap="round"/>
<line x1="29.5" y1="297.5" x2="66.6" y2="334.8" stroke="#a9baf3" stroke-width="2.2" opacity="0.5" filter="url(#b1)" stroke-linecap="round"/>
<ellipse cx="32.4" cy="300.4" rx="2.4" ry="1.2" transform="rotate(45 32.4 300.4)" fill="#c6d1f7" opacity="0.6" filter="url(#b05)"/>
<ellipse cx="51.2" cy="319.3" rx="2.4" ry="1.2" transform="rotate(45 51.2 319.3)" fill="#c6d1f7" opacity="0.6" filter="url(#b05)"/>
<ellipse cx="65.3" cy="333.4" rx="2.4" ry="1.2" transform="rotate(45 65.3 333.4)" fill="#c6d1f7" opacity="0.6" filter="url(#b05)"/>
<circle cx="34.9" cy="300.1" r="0.65" fill="#c4cff6" opacity="0.40" filter="url(#b05)"/>
<circle cx="44.8" cy="312.4" r="0.56" fill="#c4cff6" opacity="0.26" filter="url(#b05)"/>
<circle cx="59.3" cy="330.2" r="0.50" fill="#c4cff6" opacity="0.38" filter="url(#b05)"/>
<circle cx="57.1" cy="327.7" r="1.04" fill="#c4cff6" opacity="0.26" filter="url(#b05)"/>
<circle cx="26.8" cy="296.8" r="0.73" fill="#c4cff6" opacity="0.31" filter="url(#b05)"/>
<circle cx="45.8" cy="313.2" r="0.76" fill="#c4cff6" opacity="0.40" filter="url(#b05)"/>
<circle cx="37.7" cy="306.5" r="0.78" fill="#c4cff6" opacity="0.34" filter="url(#b05)"/>
<circle cx="30.1" cy="296.0" r="0.89" fill="#c4cff6" opacity="0.31" filter="url(#b05)"/>
<circle cx="67.7" cy="335.0" r="0.70" fill="#c4cff6" opacity="0.47" filter="url(#b05)"/>
<circle cx="57.5" cy="324.0" r="1.00" fill="#c4cff6" opacity="0.45" filter="url(#b05)"/>
<rect x="40.4" y="319.6" width="1.1" height="1.1" fill="#93a6f0" opacity="0.31"/>
<rect x="61.6" y="316.4" width="1.1" height="1.1" fill="#93a6f0" opacity="0.25"/>
<rect x="29.8" y="306.0" width="1.1" height="1.1" fill="#93a6f0" opacity="0.30"/>
<rect x="44.7" y="303.3" width="1.1" height="1.1" fill="#93a6f0" opacity="0.24"/>
<rect x="56.0" y="323.0" width="1.1" height="1.1" fill="#93a6f0" opacity="0.20"/>
<rect x="45.7" y="316.5" width="1.1" height="1.1" fill="#93a6f0" opacity="0.29"/>
<rect x="48.9" y="312.0" width="1.1" height="1.1" fill="#93a6f0" opacity="0.23"/>
<rect x="29.7" y="298.2" width="1.1" height="1.1" fill="#93a6f0" opacity="0.27"/>
<rect x="66.9" y="319.8" width="1.1" height="1.1" fill="#93a6f0" opacity="0.21"/>
<rect x="35.2" y="316.2" width="1.1" height="1.1" fill="#93a6f0" opacity="0.34"/>
<rect x="58.6" y="317.7" width="1.1" height="1.1" fill="#93a6f0" opacity="0.31"/>
<rect x="37.6" y="316.7" width="1.1" height="1.1" fill="#93a6f0" opacity="0.33"/>
<rect x="51.1" y="314.5" width="1.1" height="1.1" fill="#93a6f0" opacity="0.18"/>
<rect x="49.9" y="334.1" width="1.1" height="1.1" fill="#93a6f0" opacity="0.12"/>
<rect x="59.1" y="328.7" width="1.1" height="1.1" fill="#93a6f0" opacity="0.31"/>
<rect x="57.5" y="328.3" width="1.1" height="1.1" fill="#93a6f0" opacity="0.23"/>
<rect x="50.4" y="313.2" width="1.1" height="1.1" fill="#93a6f0" opacity="0.13"/>
<rect x="62.5" y="318.9" width="1.1" height="1.1" fill="#93a6f0" opacity="0.16"/>
<rect x="48.2" y="315.6" width="1.1" height="1.1" fill="#93a6f0" opacity="0.20"/>
<rect x="42.0" y="317.7" width="1.1" height="1.1" fill="#93a6f0" opacity="0.26"/>
<rect x="52.4" y="314.5" width="1.1" height="1.1" fill="#93a6f0" opacity="0.13"/>
<rect x="37.5" y="303.5" width="1.1" height="1.1" fill="#93a6f0" opacity="0.25"/>
<rect x="338.3" y="605.5" width="38.5" height="39.5" fill="#6a80e6" opacity="0.10" filter="url(#b1)"/>
<line x1="338.3" x2="338.3" y1="601.5" y2="667.0" stroke="#9fb0f2" stroke-width="0.9" opacity="0.13"/>
<line x1="376.8" x2="376.8" y1="601.5" y2="667.0" stroke="#9fb0f2" stroke-width="0.9" opacity="0.13"/>
<line x1="338.3" y1="605.5" x2="376.8" y2="645.0" stroke="#7f95ea" stroke-width="6" opacity="0.5" filter="url(#b2)" stroke-linecap="round"/>
<line x1="339.3" y1="606.5" x2="375.8" y2="644.0" stroke="#a9baf3" stroke-width="2.2" opacity="0.5" filter="url(#b1)" stroke-linecap="round"/>
<ellipse cx="342.2" cy="609.5" rx="2.4" ry="1.2" transform="rotate(45 342.2 609.5)" fill="#c6d1f7" opacity="0.6" filter="url(#b05)"/>
<ellipse cx="360.6" cy="628.4" rx="2.4" ry="1.2" transform="rotate(45 360.6 628.4)" fill="#c6d1f7" opacity="0.6" filter="url(#b05)"/>
<ellipse cx="374.5" cy="642.6" rx="2.4" ry="1.2" transform="rotate(45 374.5 642.6)" fill="#c6d1f7" opacity="0.6" filter="url(#b05)"/>
<circle cx="375.5" cy="643.1" r="0.55" fill="#c4cff6" opacity="0.50" filter="url(#b05)"/>
<circle cx="366.1" cy="633.7" r="0.86" fill="#c4cff6" opacity="0.43" filter="url(#b05)"/>
<circle cx="361.4" cy="629.5" r="0.74" fill="#c4cff6" opacity="0.47" filter="url(#b05)"/>
<circle cx="378.0" cy="644.3" r="0.77" fill="#c4cff6" opacity="0.33" filter="url(#b05)"/>
<circle cx="341.0" cy="607.1" r="0.69" fill="#c4cff6" opacity="0.36" filter="url(#b05)"/>
<circle cx="371.1" cy="640.5" r="0.64" fill="#c4cff6" opacity="0.26" filter="url(#b05)"/>
<circle cx="351.8" cy="619.4" r="1.10" fill="#c4cff6" opacity="0.45" filter="url(#b05)"/>
<circle cx="347.0" cy="611.4" r="0.94" fill="#c4cff6" opacity="0.52" filter="url(#b05)"/>
<circle cx="367.9" cy="634.5" r="1.09" fill="#c4cff6" opacity="0.54" filter="url(#b05)"/>
<circle cx="344.6" cy="610.0" r="0.78" fill="#c4cff6" opacity="0.41" filter="url(#b05)"/>
<rect x="357.2" y="642.0" width="1.1" height="1.1" fill="#93a6f0" opacity="0.23"/>
<rect x="370.3" y="619.5" width="1.1" height="1.1" fill="#93a6f0" opacity="0.31"/>
<rect x="372.9" y="623.7" width="1.1" height="1.1" fill="#93a6f0" opacity="0.24"/>
<rect x="373.7" y="634.1" width="1.1" height="1.1" fill="#93a6f0" opacity="0.23"/>
<rect x="346.8" y="618.3" width="1.1" height="1.1" fill="#93a6f0" opacity="0.27"/>
<rect x="344.7" y="641.4" width="1.1" height="1.1" fill="#93a6f0" opacity="0.18"/>
<rect x="373.4" y="617.7" width="1.1" height="1.1" fill="#93a6f0" opacity="0.33"/>
<rect x="365.5" y="625.4" width="1.1" height="1.1" fill="#93a6f0" opacity="0.23"/>
<rect x="363.4" y="628.7" width="1.1" height="1.1" fill="#93a6f0" opacity="0.19"/>
<rect x="346.3" y="625.7" width="1.1" height="1.1" fill="#93a6f0" opacity="0.33"/>
<rect x="362.3" y="608.5" width="1.1" height="1.1" fill="#93a6f0" opacity="0.30"/>
<rect x="366.2" y="641.4" width="1.1" height="1.1" fill="#93a6f0" opacity="0.16"/>
<rect x="367.0" y="607.8" width="1.1" height="1.1" fill="#93a6f0" opacity="0.26"/>
<rect x="348.8" y="614.5" width="1.1" height="1.1" fill="#93a6f0" opacity="0.31"/>
<rect x="342.4" y="626.1" width="1.1" height="1.1" fill="#93a6f0" opacity="0.31"/>
<rect x="347.7" y="613.8" width="1.1" height="1.1" fill="#93a6f0" opacity="0.31"/>
<rect x="354.6" y="633.8" width="1.1" height="1.1" fill="#93a6f0" opacity="0.13"/>
<rect x="352.3" y="612.3" width="1.1" height="1.1" fill="#93a6f0" opacity="0.27"/>
<rect x="341.5" y="643.2" width="1.1" height="1.1" fill="#93a6f0" opacity="0.13"/>
<rect x="366.4" y="606.3" width="1.1" height="1.1" fill="#93a6f0" opacity="0.18"/>
<rect x="369.6" y="611.7" width="1.1" height="1.1" fill="#93a6f0" opacity="0.16"/>
<rect x="364.9" y="620.7" width="1.1" height="1.1" fill="#93a6f0" opacity="0.13"/>
<rect x="338.3" y="296.0" width="38.5" height="40.5" fill="#6a80e6" opacity="0.10" filter="url(#b1)"/>
<line x1="338.3" x2="338.3" y1="292.0" y2="358.5" stroke="#9fb0f2" stroke-width="0.9" opacity="0.13"/>
<line x1="376.8" x2="376.8" y1="292.0" y2="358.5" stroke="#9fb0f2" stroke-width="0.9" opacity="0.13"/>
<line x1="338.3" y1="296.0" x2="376.8" y2="336.5" stroke="#7f95ea" stroke-width="5" opacity="0.32" filter="url(#b2)" stroke-linecap="round"/>
<line x1="338.8" y1="296.5" x2="376.3" y2="336.0" stroke="#a9b9f3" stroke-width="1.6" opacity="0.5" filter="url(#b05)" stroke-linecap="round"/>
<line x1="338.8" y1="296.5" x2="376.3" y2="336.0" stroke="#e6ebfb" stroke-width="1.2" opacity="0.42" filter="url(#b05)" stroke-dasharray="4 2.5 1.5 3 5 2 2 3.5 3 2"/>
<line x1="339.1" y1="297.5" x2="342.8" y2="301.5" stroke="#dfe5fa" stroke-width="2.4" opacity="0.45" filter="url(#b05)" stroke-linecap="round"/>
<line x1="372.8" y1="332.5" x2="376.0" y2="335.7" stroke="#dfe5fa" stroke-width="2.0" opacity="0.4" filter="url(#b05)" stroke-linecap="round"/>
<line x1="346.3" y1="304.0" x2="373.8" y2="333.5" stroke="#d98a7e" stroke-width="0.7" opacity="0.6" stroke-dasharray="2.5 3.5 1.5 5"/>
<circle cx="346.4" cy="305.3" r="0.86" fill="#c4cff6" opacity="0.44" filter="url(#b05)"/>
<circle cx="343.1" cy="298.8" r="0.66" fill="#c4cff6" opacity="0.32" filter="url(#b05)"/>
<circle cx="374.4" cy="336.7" r="0.79" fill="#c4cff6" opacity="0.44" filter="url(#b05)"/>
<circle cx="342.5" cy="300.3" r="0.81" fill="#c4cff6" opacity="0.47" filter="url(#b05)"/>
<circle cx="366.0" cy="324.0" r="0.85" fill="#c4cff6" opacity="0.34" filter="url(#b05)"/>
<circle cx="340.4" cy="296.2" r="0.93" fill="#c4cff6" opacity="0.51" filter="url(#b05)"/>
<circle cx="366.9" cy="324.4" r="0.98" fill="#c4cff6" opacity="0.38" filter="url(#b05)"/>
<circle cx="374.7" cy="333.5" r="0.58" fill="#c4cff6" opacity="0.32" filter="url(#b05)"/>
<rect x="375.5" y="313.7" width="1.1" height="1.1" fill="#93a6f0" opacity="0.26"/>
<rect x="349.9" y="316.5" width="1.1" height="1.1" fill="#93a6f0" opacity="0.20"/>
<rect x="351.8" y="319.7" width="1.1" height="1.1" fill="#93a6f0" opacity="0.25"/>
<rect x="373.1" y="323.6" width="1.1" height="1.1" fill="#93a6f0" opacity="0.32"/>
<rect x="371.3" y="336.1" width="1.1" height="1.1" fill="#93a6f0" opacity="0.27"/>
<rect x="344.6" y="330.9" width="1.1" height="1.1" fill="#93a6f0" opacity="0.33"/>
<rect x="373.1" y="319.0" width="1.1" height="1.1" fill="#93a6f0" opacity="0.28"/>
<rect x="346.4" y="329.7" width="1.1" height="1.1" fill="#93a6f0" opacity="0.25"/>
<rect x="349.3" y="298.6" width="1.1" height="1.1" fill="#93a6f0" opacity="0.31"/>
<rect x="376.4" y="299.6" width="1.1" height="1.1" fill="#93a6f0" opacity="0.30"/>
<rect x="354.1" y="302.1" width="1.1" height="1.1" fill="#93a6f0" opacity="0.18"/>
<rect x="367.9" y="331.3" width="1.1" height="1.1" fill="#93a6f0" opacity="0.13"/>
<rect x="362.0" y="297.8" width="1.1" height="1.1" fill="#93a6f0" opacity="0.28"/>
<rect x="351.0" y="331.7" width="1.1" height="1.1" fill="#93a6f0" opacity="0.34"/>
<rect x="357.8" y="336.4" width="1.1" height="1.1" fill="#93a6f0" opacity="0.19"/>
<rect x="341.3" y="320.3" width="1.1" height="1.1" fill="#93a6f0" opacity="0.13"/>
<rect x="345.9" y="312.5" width="1.1" height="1.1" fill="#93a6f0" opacity="0.25"/>
<rect x="344.3" y="297.7" width="1.1" height="1.1" fill="#93a6f0" opacity="0.31"/>
<rect x="350.4" y="334.8" width="1.1" height="1.1" fill="#93a6f0" opacity="0.32"/>
<rect x="352.8" y="314.6" width="1.1" height="1.1" fill="#93a6f0" opacity="0.23"/>
<rect x="363.1" y="320.1" width="1.1" height="1.1" fill="#93a6f0" opacity="0.24"/>
<rect x="362.2" y="334.1" width="1.1" height="1.1" fill="#93a6f0" opacity="0.23"/>
<rect x="28.5" y="604.5" width="39.1" height="40.5" fill="#6a80e6" opacity="0.10" filter="url(#b1)"/>
<line x1="28.5" x2="28.5" y1="600.5" y2="667.0" stroke="#9fb0f2" stroke-width="0.9" opacity="0.13"/>
<line x1="67.6" x2="67.6" y1="600.5" y2="667.0" stroke="#9fb0f2" stroke-width="0.9" opacity="0.13"/>
<line x1="28.5" y1="604.5" x2="67.6" y2="645.0" stroke="#7f95ea" stroke-width="5" opacity="0.32" filter="url(#b2)" stroke-linecap="round"/>
<line x1="29.0" y1="605.0" x2="67.1" y2="644.5" stroke="#a9b9f3" stroke-width="1.6" opacity="0.5" filter="url(#b05)" stroke-linecap="round"/>
<line x1="29.0" y1="605.0" x2="67.1" y2="644.5" stroke="#e6ebfb" stroke-width="1.2" opacity="0.42" filter="url(#b05)" stroke-dasharray="4 2.5 1.5 3 5 2 2 3.5 3 2"/>
<line x1="29.3" y1="606.0" x2="33.0" y2="610.0" stroke="#dfe5fa" stroke-width="2.4" opacity="0.45" filter="url(#b05)" stroke-linecap="round"/>
<line x1="63.599999999999994" y1="641.0" x2="66.8" y2="644.2" stroke="#dfe5fa" stroke-width="2.0" opacity="0.4" filter="url(#b05)" stroke-linecap="round"/>
<line x1="36.5" y1="612.5" x2="64.6" y2="642.0" stroke="#d98a7e" stroke-width="0.7" opacity="0.6" stroke-dasharray="2.5 3.5 1.5 5"/>
<circle cx="38.7" cy="614.8" r="0.59" fill="#c4cff6" opacity="0.27" filter="url(#b05)"/>
<circle cx="46.1" cy="619.7" r="0.96" fill="#c4cff6" opacity="0.32" filter="url(#b05)"/>
<circle cx="49.4" cy="627.0" r="0.56" fill="#c4cff6" opacity="0.31" filter="url(#b05)"/>
<circle cx="65.8" cy="640.1" r="0.98" fill="#c4cff6" opacity="0.31" filter="url(#b05)"/>
<circle cx="39.3" cy="615.7" r="1.01" fill="#c4cff6" opacity="0.51" filter="url(#b05)"/>
<circle cx="30.5" cy="606.9" r="0.80" fill="#c4cff6" opacity="0.30" filter="url(#b05)"/>
<circle cx="49.4" cy="625.2" r="1.02" fill="#c4cff6" opacity="0.41" filter="url(#b05)"/>
<circle cx="41.6" cy="615.8" r="1.03" fill="#c4cff6" opacity="0.50" filter="url(#b05)"/>
<rect x="48.4" y="621.3" width="1.1" height="1.1" fill="#93a6f0" opacity="0.25"/>
<rect x="45.4" y="611.0" width="1.1" height="1.1" fill="#93a6f0" opacity="0.19"/>
<rect x="60.3" y="606.3" width="1.1" height="1.1" fill="#93a6f0" opacity="0.13"/>
<rect x="53.0" y="615.9" width="1.1" height="1.1" fill="#93a6f0" opacity="0.24"/>
<rect x="46.9" y="618.4" width="1.1" height="1.1" fill="#93a6f0" opacity="0.34"/>
<rect x="36.1" y="621.2" width="1.1" height="1.1" fill="#93a6f0" opacity="0.16"/>
<rect x="53.2" y="615.7" width="1.1" height="1.1" fill="#93a6f0" opacity="0.20"/>
<rect x="57.7" y="617.5" width="1.1" height="1.1" fill="#93a6f0" opacity="0.24"/>
<rect x="63.9" y="608.6" width="1.1" height="1.1" fill="#93a6f0" opacity="0.13"/>
<rect x="37.4" y="635.5" width="1.1" height="1.1" fill="#93a6f0" opacity="0.26"/>
<rect x="37.8" y="617.9" width="1.1" height="1.1" fill="#93a6f0" opacity="0.16"/>
<rect x="46.4" y="606.2" width="1.1" height="1.1" fill="#93a6f0" opacity="0.27"/>
<rect x="63.5" y="643.2" width="1.1" height="1.1" fill="#93a6f0" opacity="0.28"/>
<rect x="66.0" y="605.2" width="1.1" height="1.1" fill="#93a6f0" opacity="0.18"/>
<rect x="66.3" y="635.9" width="1.1" height="1.1" fill="#93a6f0" opacity="0.21"/>
<rect x="65.4" y="629.6" width="1.1" height="1.1" fill="#93a6f0" opacity="0.30"/>
<rect x="40.0" y="612.3" width="1.1" height="1.1" fill="#93a6f0" opacity="0.22"/>
<rect x="33.8" y="620.0" width="1.1" height="1.1" fill="#93a6f0" opacity="0.33"/>
<rect x="41.5" y="604.9" width="1.1" height="1.1" fill="#93a6f0" opacity="0.13"/>
<rect x="35.1" y="636.2" width="1.1" height="1.1" fill="#93a6f0" opacity="0.20"/>
<rect x="39.9" y="608.4" width="1.1" height="1.1" fill="#93a6f0" opacity="0.34"/>
<rect x="45.1" y="612.9" width="1.1" height="1.1" fill="#93a6f0" opacity="0.13"/>
</g>
<rect x="9.4" y="276.46" width="1.4" height="1.14" fill="#e0a030" opacity="0.68"/>
<rect x="13.5" y="276.84" width="1.7" height="0.76" fill="#1f3fbf" opacity="0.54"/>
<rect x="16.1" y="276.41" width="1.8" height="1.19" fill="#e0a030" opacity="0.76"/>
<rect x="18.6" y="276.78" width="1.0" height="0.82" fill="#2e8b2e" opacity="0.51"/>
<rect x="20.7" y="276.94" width="1.6" height="0.66" fill="#2a4ab0" opacity="0.84"/>
<rect x="23.0" y="276.67" width="1.7" height="0.93" fill="#e0a030" opacity="0.76"/>
<rect x="26.8" y="276.79" width="1.2" height="0.81" fill="#2e8b2e" opacity="0.53"/>
<rect x="75.5" y="277.14" width="2.2" height="0.46" fill="#4a5ac8" opacity="0.81"/>
<rect x="78.0" y="276.43" width="0.9" height="1.17" fill="#3a7a3a" opacity="0.55"/>
<rect x="79.8" y="276.81" width="0.8" height="0.79" fill="#556b2f" opacity="0.58"/>
<rect x="81.2" y="276.86" width="2.2" height="0.74" fill="#4aa84a" opacity="0.55"/>
<rect x="83.9" y="276.42" width="1.1" height="1.18" fill="#2a4ab0" opacity="0.62"/>
<rect x="86.1" y="276.52" width="1.1" height="1.08" fill="#2a4ab0" opacity="0.54"/>
<rect x="88.3" y="276.58" width="1.1" height="1.02" fill="#c0504d" opacity="0.83"/>
<rect x="89.9" y="276.69" width="0.9" height="0.91" fill="#2e8b2e" opacity="0.74"/>
<rect x="97.1" y="276.61" width="1.1" height="0.99" fill="#556b2f" opacity="0.58"/>
<rect x="99.4" y="276.86" width="2.0" height="0.74" fill="#3a7a3a" opacity="0.54"/>
<rect x="102.0" y="276.89" width="1.2" height="0.71" fill="#4aa84a" opacity="0.83"/>
<rect x="103.9" y="276.62" width="1.2" height="0.98" fill="#3a7a3a" opacity="0.55"/>
<rect x="105.7" y="277.14" width="1.7" height="0.46" fill="#4a5ac8" opacity="0.87"/>
<rect x="107.7" y="276.84" width="0.8" height="0.76" fill="#2e8b2e" opacity="0.52"/>
<rect x="110.5" y="276.94" width="1.0" height="0.66" fill="#556b2f" opacity="0.73"/>
<rect x="111.6" y="276.47" width="0.8" height="1.13" fill="#6a8a2a" opacity="0.89"/>
<rect x="112.5" y="276.62" width="1.7" height="0.98" fill="#c0504d" opacity="0.55"/>
<rect x="114.3" y="277.16" width="1.4" height="0.44" fill="#1f3fbf" opacity="0.82"/>
<rect x="116.8" y="276.48" width="1.3" height="1.12" fill="#4aa84a" opacity="0.88"/>
<rect x="118.1" y="276.67" width="1.5" height="0.93" fill="#4aa84a" opacity="0.73"/>
<rect x="120.4" y="276.41" width="0.9" height="1.19" fill="#4aa84a" opacity="0.79"/>
<rect x="121.8" y="276.85" width="1.8" height="0.75" fill="#556b2f" opacity="0.53"/>
<rect x="124.5" y="276.82" width="0.8" height="0.78" fill="#4a5ac8" opacity="0.88"/>
<rect x="125.5" y="276.81" width="1.9" height="0.79" fill="#2e8b2e" opacity="0.65"/>
<rect x="127.5" y="276.60" width="1.7" height="1.00" fill="#c0504d" opacity="0.76"/>
<rect x="129.7" y="276.67" width="2.0" height="0.93" fill="#4a5ac8" opacity="0.75"/>
<rect x="132.7" y="277.03" width="1.9" height="0.57" fill="#4a5ac8" opacity="0.73"/>
<rect x="135.0" y="276.53" width="1.0" height="1.07" fill="#2e8b2e" opacity="0.78"/>
<rect x="137.1" y="276.84" width="1.2" height="0.76" fill="#6a8a2a" opacity="0.87"/>
<rect x="139.3" y="276.66" width="1.3" height="0.94" fill="#2a4ab0" opacity="0.68"/>
<rect x="141.6" y="276.95" width="1.8" height="0.65" fill="#2a4ab0" opacity="0.51"/>
<rect x="143.6" y="276.54" width="1.4" height="1.06" fill="#4a5ac8" opacity="0.81"/>
<rect x="145.9" y="277.11" width="2.2" height="0.49" fill="#556b2f" opacity="0.76"/>
<rect x="149.1" y="277.04" width="2.1" height="0.56" fill="#e0a030" opacity="0.60"/>
<rect x="152.1" y="277.17" width="1.9" height="0.43" fill="#4a5ac8" opacity="0.61"/>
<rect x="154.4" y="276.71" width="1.8" height="0.89" fill="#1f3fbf" opacity="0.66"/>
<rect x="157.1" y="276.45" width="2.1" height="1.15" fill="#4aa84a" opacity="0.55"/>
<rect x="164.4" y="276.68" width="2.1" height="0.92" fill="#4a5ac8" opacity="0.54"/>
<rect x="169.6" y="277.13" width="1.1" height="0.47" fill="#6a8a2a" opacity="0.71"/>
<rect x="174.0" y="276.85" width="1.3" height="0.75" fill="#556b2f" opacity="0.67"/>
<rect x="175.6" y="276.51" width="2.1" height="1.09" fill="#4aa84a" opacity="0.82"/>
<rect x="177.9" y="277.09" width="1.3" height="0.51" fill="#1f3fbf" opacity="0.90"/>
<rect x="180.2" y="276.85" width="1.5" height="0.75" fill="#e0a030" opacity="0.73"/>
<rect x="182.6" y="276.75" width="1.9" height="0.85" fill="#556b2f" opacity="0.76"/>
<rect x="185.1" y="276.95" width="2.0" height="0.65" fill="#4aa84a" opacity="0.88"/>
<rect x="188.1" y="277.09" width="1.7" height="0.51" fill="#556b2f" opacity="0.71"/>
<rect x="190.4" y="276.80" width="1.1" height="0.80" fill="#2a4ab0" opacity="0.65"/>
<rect x="193.7" y="277.13" width="2.2" height="0.47" fill="#1f3fbf" opacity="0.53"/>
<rect x="199.0" y="277.10" width="1.2" height="0.50" fill="#4aa84a" opacity="0.86"/>
<rect x="201.3" y="277.11" width="2.1" height="0.49" fill="#4aa84a" opacity="0.75"/>
<rect x="204.5" y="277.18" width="1.0" height="0.42" fill="#4a5ac8" opacity="0.56"/>
<rect x="205.5" y="277.00" width="1.2" height="0.60" fill="#e0a030" opacity="0.54"/>
<rect x="207.6" y="277.00" width="1.0" height="0.60" fill="#4a5ac8" opacity="0.78"/>
<rect x="209.6" y="276.54" width="0.8" height="1.06" fill="#2a4ab0" opacity="0.56"/>
<rect x="210.7" y="276.78" width="1.7" height="0.82" fill="#556b2f" opacity="0.74"/>
<rect x="213.4" y="276.55" width="1.1" height="1.05" fill="#1f3fbf" opacity="0.63"/>
<rect x="214.9" y="276.40" width="2.1" height="1.20" fill="#3a7a3a" opacity="0.55"/>
<rect x="217.3" y="277.12" width="1.8" height="0.48" fill="#4aa84a" opacity="0.72"/>
<rect x="219.9" y="276.56" width="1.1" height="1.04" fill="#3a7a3a" opacity="0.58"/>
<rect x="224.0" y="276.80" width="1.5" height="0.80" fill="#4a5ac8" opacity="0.82"/>
<rect x="226.1" y="276.71" width="0.8" height="0.89" fill="#2a4ab0" opacity="0.69"/>
<rect x="227.2" y="277.07" width="1.0" height="0.53" fill="#6a8a2a" opacity="0.87"/>
<rect x="229.7" y="276.83" width="1.9" height="0.77" fill="#556b2f" opacity="0.64"/>
<rect x="231.8" y="277.17" width="1.3" height="0.43" fill="#4a5ac8" opacity="0.57"/>
<rect x="233.7" y="277.04" width="1.8" height="0.56" fill="#1f3fbf" opacity="0.54"/>
<rect x="236.5" y="276.53" width="1.3" height="1.07" fill="#4aa84a" opacity="0.73"/>
<rect x="238.0" y="276.59" width="1.6" height="1.01" fill="#6a8a2a" opacity="0.86"/>
<rect x="245.7" y="276.88" width="1.9" height="0.72" fill="#1f3fbf" opacity="0.53"/>
<rect x="248.0" y="276.92" width="1.5" height="0.68" fill="#2a4ab0" opacity="0.52"/>
<rect x="249.8" y="277.03" width="2.1" height="0.57" fill="#4aa84a" opacity="0.73"/>
<rect x="254.7" y="276.42" width="1.8" height="1.18" fill="#2e8b2e" opacity="0.55"/>
<rect x="256.6" y="276.80" width="1.1" height="0.80" fill="#4a5ac8" opacity="0.76"/>
<rect x="257.8" y="276.93" width="1.2" height="0.67" fill="#556b2f" opacity="0.70"/>
<rect x="262.5" y="276.72" width="1.9" height="0.88" fill="#2e8b2e" opacity="0.65"/>
<rect x="267.9" y="276.86" width="1.6" height="0.74" fill="#e0a030" opacity="0.67"/>
<rect x="270.1" y="276.97" width="1.6" height="0.63" fill="#6a8a2a" opacity="0.72"/>
<rect x="272.1" y="277.19" width="1.8" height="0.41" fill="#4a5ac8" opacity="0.73"/>
<rect x="274.6" y="277.16" width="1.4" height="0.44" fill="#c0504d" opacity="0.80"/>
<rect x="278.3" y="276.82" width="2.1" height="0.78" fill="#4a5ac8" opacity="0.52"/>
<rect x="282.6" y="276.63" width="2.1" height="0.97" fill="#2e8b2e" opacity="0.75"/>
<rect x="285.3" y="276.78" width="1.1" height="0.82" fill="#3a7a3a" opacity="0.65"/>
<rect x="286.6" y="276.69" width="1.4" height="0.91" fill="#4aa84a" opacity="0.65"/>
<rect x="288.8" y="276.97" width="1.9" height="0.63" fill="#1f3fbf" opacity="0.60"/>
<rect x="290.9" y="276.70" width="2.0" height="0.90" fill="#c0504d" opacity="0.61"/>
<rect x="293.7" y="277.05" width="1.8" height="0.55" fill="#6a8a2a" opacity="0.80"/>
<rect x="298.0" y="277.15" width="2.0" height="0.45" fill="#6a8a2a" opacity="0.60"/>
<rect x="300.0" y="276.98" width="0.9" height="0.62" fill="#3a7a3a" opacity="0.87"/>
<rect x="302.8" y="276.80" width="1.3" height="0.80" fill="#1f3fbf" opacity="0.84"/>
<rect x="305.9" y="276.86" width="1.9" height="0.74" fill="#6a8a2a" opacity="0.66"/>
<rect x="309.7" y="276.54" width="1.2" height="1.06" fill="#1f3fbf" opacity="0.67"/>
<rect x="312.4" y="276.81" width="0.9" height="0.79" fill="#e0a030" opacity="0.62"/>
<rect x="314.2" y="276.67" width="0.9" height="0.93" fill="#3a7a3a" opacity="0.78"/>
<rect x="315.7" y="276.49" width="1.9" height="1.11" fill="#4a5ac8" opacity="0.64"/>
<rect x="318.5" y="276.63" width="1.3" height="0.97" fill="#2a4ab0" opacity="0.74"/>
<rect x="320.9" y="276.78" width="1.8" height="0.82" fill="#6a8a2a" opacity="0.68"/>
<rect x="322.9" y="276.79" width="2.2" height="0.81" fill="#3a7a3a" opacity="0.64"/>
<rect x="325.5" y="276.89" width="1.3" height="0.71" fill="#4a5ac8" opacity="0.80"/>
<rect x="327.2" y="276.73" width="1.3" height="0.87" fill="#1f3fbf" opacity="0.57"/>
<rect x="329.5" y="277.18" width="2.0" height="0.42" fill="#556b2f" opacity="0.52"/>
<rect x="331.7" y="276.53" width="1.2" height="1.07" fill="#4aa84a" opacity="0.53"/>
<rect x="333.6" y="277.13" width="1.9" height="0.47" fill="#3a7a3a" opacity="0.86"/>
<rect x="335.6" y="276.60" width="1.7" height="1.00" fill="#4aa84a" opacity="0.60"/>
<rect x="379.5" y="276.59" width="1.9" height="1.01" fill="#4aa84a" opacity="0.64"/>
<rect x="382.4" y="276.81" width="1.3" height="0.79" fill="#3a7a3a" opacity="0.78"/>
<rect x="392.7" y="276.56" width="1.5" height="1.04" fill="#4aa84a" opacity="0.87"/>
<rect x="29.28" y="256.4" width="1.86" height="20.6" rx="0.8" fill="#5a55e0" opacity="0.22"/>
<text transform="translate(30.21,276.9) scale(0.33,2.95)" text-anchor="middle" style="font-size:10px;font-weight:700;fill:#5a55e0;stroke:#5a55e0;stroke-width:0.7">G</text>
<rect x="31.30" y="256.4" width="1.86" height="20.6" rx="0.8" fill="#9db4e8" opacity="0.22"/>
<text transform="translate(32.23,276.9) scale(0.33,2.95)" text-anchor="middle" style="font-size:10px;font-weight:700;fill:#9db4e8;stroke:#9db4e8;stroke-width:0.7">G</text>
<rect x="33.32" y="256.4" width="1.86" height="20.6" rx="0.8" fill="#2e8b2e" opacity="0.22"/>
<text transform="translate(34.25,276.9) scale(0.33,2.95)" text-anchor="middle" style="font-size:10px;font-weight:700;fill:#2e8b2e;stroke:#2e8b2e;stroke-width:0.7">A</text>
<rect x="35.34" y="256.4" width="1.86" height="20.6" rx="0.8" fill="#b5651d" opacity="0.22"/>
<text transform="translate(36.27,276.9) scale(0.33,2.95)" text-anchor="middle" style="font-size:10px;font-weight:700;fill:#b5651d;stroke:#b5651d;stroke-width:0.7">T</text>
<rect x="37.37" y="256.4" width="1.86" height="20.6" rx="0.8" fill="#a0522d" opacity="0.22"/>
<text transform="translate(38.29,276.9) scale(0.33,2.95)" text-anchor="middle" style="font-size:10px;font-weight:700;fill:#a0522d;stroke:#a0522d;stroke-width:0.7">C</text>
<rect x="39.39" y="256.4" width="1.86" height="20.6" rx="0.8" fill="#f2a48c" opacity="0.22"/>
<text transform="translate(40.32,276.9) scale(0.33,2.95)" text-anchor="middle" style="font-size:10px;font-weight:700;fill:#f2a48c;stroke:#f2a48c;stroke-width:0.7">A</text>
<rect x="41.41" y="256.4" width="1.86" height="20.6" rx="0.8" fill="#f08a24" opacity="0.22"/>
<text transform="translate(42.34,276.9) scale(0.33,2.95)" text-anchor="middle" style="font-size:10px;font-weight:700;fill:#f08a24;stroke:#f08a24;stroke-width:0.7">C</text>
<rect x="43.43" y="256.4" width="1.86" height="20.6" rx="0.8" fill="#f5b942" opacity="0.22"/>
<text transform="translate(44.36,276.9) scale(0.33,2.95)" text-anchor="middle" style="font-size:10px;font-weight:700;fill:#f5b942;stroke:#f5b942;stroke-width:0.7">A</text>
<rect x="45.45" y="256.4" width="1.86" height="20.6" rx="0.8" fill="#e0191b" opacity="0.22"/>
<text transform="translate(46.38,276.9) scale(0.33,2.95)" text-anchor="middle" style="font-size:10px;font-weight:700;fill:#e0191b;stroke:#e0191b;stroke-width:0.7">G</text>
<rect x="47.47" y="256.4" width="1.86" height="20.6" rx="0.8" fill="#d21f2b" opacity="0.22"/>
<text transform="translate(48.40,276.9) scale(0.33,2.95)" text-anchor="middle" style="font-size:10px;font-weight:700;fill:#d21f2b;stroke:#d21f2b;stroke-width:0.7">T</text>
<rect x="49.49" y="256.4" width="1.86" height="20.6" rx="0.8" fill="#6a3fc0" opacity="0.22"/>
<text transform="translate(50.42,276.9) scale(0.33,2.95)" text-anchor="middle" style="font-size:10px;font-weight:700;fill:#6a3fc0;stroke:#6a3fc0;stroke-width:0.7">C</text>
<rect x="51.51" y="256.4" width="1.86" height="20.6" rx="0.8" fill="#5b3aa8" opacity="0.22"/>
<text transform="translate(52.44,276.9) scale(0.33,2.95)" text-anchor="middle" style="font-size:10px;font-weight:700;fill:#5b3aa8;stroke:#5b3aa8;stroke-width:0.7">T</text>
<rect x="53.53" y="256.4" width="1.86" height="20.6" rx="0.8" fill="#8c9a5a" opacity="0.22"/>
<text transform="translate(54.46,276.9) scale(0.33,2.95)" text-anchor="middle" style="font-size:10px;font-weight:700;fill:#8c9a5a;stroke:#8c9a5a;stroke-width:0.7">A</text>
<rect x="55.55" y="256.4" width="1.86" height="20.6" rx="0.8" fill="#f2c12e" opacity="0.22"/>
<text transform="translate(56.48,276.9) scale(0.33,2.95)" text-anchor="middle" style="font-size:10px;font-weight:700;fill:#f2c12e;stroke:#f2c12e;stroke-width:0.7">C</text>
<rect x="57.58" y="256.4" width="1.86" height="20.6" rx="0.8" fill="#2a6b2a" opacity="0.22"/>
<text transform="translate(58.51,276.9) scale(0.33,2.95)" text-anchor="middle" style="font-size:10px;font-weight:700;fill:#2a6b2a;stroke:#2a6b2a;stroke-width:0.7">A</text>
<rect x="59.60" y="256.4" width="1.86" height="20.6" rx="0.8" fill="#a01818" opacity="0.22"/>
<text transform="translate(60.53,276.9) scale(0.33,2.95)" text-anchor="middle" style="font-size:10px;font-weight:700;fill:#a01818;stroke:#a01818;stroke-width:0.7">C</text>
<rect x="61.62" y="256.4" width="1.86" height="20.6" rx="0.8" fill="#f0a030" opacity="0.22"/>
<text transform="translate(62.55,276.9) scale(0.33,2.95)" text-anchor="middle" style="font-size:10px;font-weight:700;fill:#f0a030;stroke:#f0a030;stroke-width:0.7">T</text>
<rect x="63.64" y="256.4" width="1.86" height="20.6" rx="0.8" fill="#d8181c" opacity="0.22"/>
<text transform="translate(64.57,276.9) scale(0.33,2.95)" text-anchor="middle" style="font-size:10px;font-weight:700;fill:#d8181c;stroke:#d8181c;stroke-width:0.7">G</text>
<rect x="65.66" y="256.4" width="1.86" height="20.6" rx="0.8" fill="#2e7d32" opacity="0.22"/>
<text transform="translate(66.59,276.9) scale(0.33,2.95)" text-anchor="middle" style="font-size:10px;font-weight:700;fill:#2e7d32;stroke:#2e7d32;stroke-width:0.7">C</text>
<rect x="338.68" y="256.4" width="1.78" height="20.6" rx="0.8" fill="#6aa03a" opacity="0.22"/>
<text transform="translate(339.57,276.9) scale(0.33,2.95)" text-anchor="middle" style="font-size:10px;font-weight:700;fill:#6aa03a;stroke:#6aa03a;stroke-width:0.7">A</text>
<rect x="340.62" y="256.4" width="1.78" height="20.6" rx="0.8" fill="#4a3fd0" opacity="0.22"/>
<text transform="translate(341.51,276.9) scale(0.33,2.95)" text-anchor="middle" style="font-size:10px;font-weight:700;fill:#4a3fd0;stroke:#4a3fd0;stroke-width:0.7">T</text>
<rect x="342.56" y="256.4" width="1.78" height="20.6" rx="0.8" fill="#9fb2dc" opacity="0.22"/>
<text transform="translate(343.45,276.9) scale(0.33,2.95)" text-anchor="middle" style="font-size:10px;font-weight:700;fill:#9fb2dc;stroke:#9fb2dc;stroke-width:0.7">G</text>
<rect x="344.50" y="256.4" width="1.78" height="20.6" rx="0.8" fill="#e85a6a" opacity="0.22"/>
<text transform="translate(345.39,276.9) scale(0.33,2.95)" text-anchor="middle" style="font-size:10px;font-weight:700;fill:#e85a6a;stroke:#e85a6a;stroke-width:0.7">A</text>
<rect x="346.44" y="256.4" width="1.78" height="20.6" rx="0.8" fill="#d01f2a" opacity="0.22"/>
<text transform="translate(347.33,276.9) scale(0.33,2.95)" text-anchor="middle" style="font-size:10px;font-weight:700;fill:#d01f2a;stroke:#d01f2a;stroke-width:0.7">A</text>
<rect x="348.38" y="256.4" width="1.78" height="20.6" rx="0.8" fill="#2d6b2d" opacity="0.22"/>
<text transform="translate(349.27,276.9) scale(0.33,2.95)" text-anchor="middle" style="font-size:10px;font-weight:700;fill:#2d6b2d;stroke:#2d6b2d;stroke-width:0.7">C</text>
<rect x="350.32" y="256.4" width="1.78" height="20.6" rx="0.8" fill="#f08c28" opacity="0.22"/>
<text transform="translate(351.21,276.9) scale(0.33,2.95)" text-anchor="middle" style="font-size:10px;font-weight:700;fill:#f08c28;stroke:#f08c28;stroke-width:0.7">T</text>
<rect x="352.26" y="256.4" width="1.78" height="20.6" rx="0.8" fill="#f5a030" opacity="0.22"/>
<text transform="translate(353.15,276.9) scale(0.33,2.95)" text-anchor="middle" style="font-size:10px;font-weight:700;fill:#f5a030;stroke:#f5a030;stroke-width:0.7">G</text>
<rect x="354.20" y="256.4" width="1.78" height="20.6" rx="0.8" fill="#d8202a" opacity="0.22"/>
<text transform="translate(355.09,276.9) scale(0.33,2.95)" text-anchor="middle" style="font-size:10px;font-weight:700;fill:#d8202a;stroke:#d8202a;stroke-width:0.7">G</text>
<rect x="356.14" y="256.4" width="1.78" height="20.6" rx="0.8" fill="#8a3ab0" opacity="0.22"/>
<text transform="translate(357.03,276.9) scale(0.33,2.95)" text-anchor="middle" style="font-size:10px;font-weight:700;fill:#8a3ab0;stroke:#8a3ab0;stroke-width:0.7">A</text>
<rect x="358.08" y="256.4" width="1.78" height="20.6" rx="0.8" fill="#d8202a" opacity="0.22"/>
<text transform="translate(358.97,276.9) scale(0.33,2.95)" text-anchor="middle" style="font-size:10px;font-weight:700;fill:#d8202a;stroke:#d8202a;stroke-width:0.7">G</text>
<rect x="360.02" y="256.4" width="1.78" height="20.6" rx="0.8" fill="#3a3fc8" opacity="0.22"/>
<text transform="translate(360.91,276.9) scale(0.33,2.95)" text-anchor="middle" style="font-size:10px;font-weight:700;fill:#3a3fc8;stroke:#3a3fc8;stroke-width:0.7">T</text>
<rect x="361.96" y="256.4" width="1.78" height="20.6" rx="0.8" fill="#9cc0e8" opacity="0.22"/>
<text transform="translate(362.85,276.9) scale(0.33,2.95)" text-anchor="middle" style="font-size:10px;font-weight:700;fill:#9cc0e8;stroke:#9cc0e8;stroke-width:0.7">C</text>
<rect x="363.90" y="256.4" width="1.78" height="20.6" rx="0.8" fill="#f0a828" opacity="0.22"/>
<text transform="translate(364.79,276.9) scale(0.33,2.95)" text-anchor="middle" style="font-size:10px;font-weight:700;fill:#f0a828;stroke:#f0a828;stroke-width:0.7">T</text>
<rect x="365.84" y="256.4" width="1.78" height="20.6" rx="0.8" fill="#8a9a2a" opacity="0.22"/>
<text transform="translate(366.73,276.9) scale(0.33,2.95)" text-anchor="middle" style="font-size:10px;font-weight:700;fill:#8a9a2a;stroke:#8a9a2a;stroke-width:0.7">A</text>
<rect x="367.78" y="256.4" width="1.78" height="20.6" rx="0.8" fill="#3a6a1a" opacity="0.22"/>
<text transform="translate(368.67,276.9) scale(0.33,2.95)" text-anchor="middle" style="font-size:10px;font-weight:700;fill:#3a6a1a;stroke:#3a6a1a;stroke-width:0.7">C</text>
<rect x="369.72" y="256.4" width="1.78" height="20.6" rx="0.8" fill="#e86a5a" opacity="0.22"/>
<text transform="translate(370.61,276.9) scale(0.33,2.95)" text-anchor="middle" style="font-size:10px;font-weight:700;fill:#e86a5a;stroke:#e86a5a;stroke-width:0.7">G</text>
<rect x="371.66" y="256.4" width="1.78" height="20.6" rx="0.8" fill="#f09030" opacity="0.22"/>
<text transform="translate(372.55,276.9) scale(0.33,2.95)" text-anchor="middle" style="font-size:10px;font-weight:700;fill:#f09030;stroke:#f09030;stroke-width:0.7">A</text>
<rect x="373.60" y="256.4" width="1.78" height="20.6" rx="0.8" fill="#4a55d0" opacity="0.22"/>
<text transform="translate(374.49,276.9) scale(0.33,2.95)" text-anchor="middle" style="font-size:10px;font-weight:700;fill:#4a55d0;stroke:#4a55d0;stroke-width:0.7">T</text>
<rect x="375.54" y="256.4" width="1.78" height="20.6" rx="0.8" fill="#2e6b2e" opacity="0.22"/>
<text transform="translate(376.43,276.9) scale(0.33,2.95)" text-anchor="middle" style="font-size:10px;font-weight:700;fill:#2e6b2e;stroke:#2e6b2e;stroke-width:0.7">G</text>
</g>
<g id="panelC">
<text class="lab" x="408" y="231.0">C</text>
<line x1="488.4" x2="683.7" y1="349.10" y2="349.10" stroke="#e9e9e9" stroke-width="0.9"/>
<line x1="488.4" x2="683.7" y1="318.49" y2="318.49" stroke="#e9e9e9" stroke-width="0.9"/>
<line x1="488.4" x2="683.7" y1="287.88" y2="287.88" stroke="#e9e9e9" stroke-width="0.9"/>
<line x1="488.4" x2="683.7" y1="257.26" y2="257.26" stroke="#e9e9e9" stroke-width="0.9"/>
<line x1="488.4" x2="683.7" y1="226.65" y2="226.65" stroke="#e9e9e9" stroke-width="0.9"/>
<line x1="497.40" x2="497.40" y1="220.0" y2="349.6" stroke="#e9e9e9" stroke-width="0.9"/>
<line x1="517.12" x2="517.12" y1="220.0" y2="349.6" stroke="#e9e9e9" stroke-width="0.9"/>
<line x1="536.84" x2="536.84" y1="220.0" y2="349.6" stroke="#e9e9e9" stroke-width="0.9"/>
<line x1="556.57" x2="556.57" y1="220.0" y2="349.6" stroke="#e9e9e9" stroke-width="0.9"/>
<line x1="576.29" x2="576.29" y1="220.0" y2="349.6" stroke="#e9e9e9" stroke-width="0.9"/>
<line x1="596.01" x2="596.01" y1="220.0" y2="349.6" stroke="#e9e9e9" stroke-width="0.9"/>
<line x1="615.73" x2="615.73" y1="220.0" y2="349.6" stroke="#e9e9e9" stroke-width="0.9"/>
<line x1="635.45" x2="635.45" y1="220.0" y2="349.6" stroke="#e9e9e9" stroke-width="0.9"/>
<line x1="655.18" x2="655.18" y1="220.0" y2="349.6" stroke="#e9e9e9" stroke-width="0.9"/>
<line x1="674.90" x2="674.90" y1="220.0" y2="349.6" stroke="#e9e9e9" stroke-width="0.9"/>
<text class="c" transform="translate(483.6,352.80) scale(1,0.94)" text-anchor="end">0</text>
<text class="c" transform="translate(483.6,322.19) scale(1,0.94)" text-anchor="end">2.5</text>
<text class="c" transform="translate(483.6,291.57) scale(1,0.94)" text-anchor="end">5</text>
<text class="c" transform="translate(483.6,260.96) scale(1,0.94)" text-anchor="end">7.5</text>
<text class="c" transform="translate(483.6,230.35) scale(1,0.94)" text-anchor="end">10</text>
<text class="c" transform="translate(464.2,279.6) rotate(-90) scale(1,0.94)" text-anchor="middle" textLength="98.8" lengthAdjust="spacingAndGlyphs">Average Dependency</text>
<clipPath id="cc1"><rect x="488.4" y="220.0" width="197.3" height="129.6"/></clipPath>
<g clip-path="url(#cc1)">
<line x1="497.40" x2="497.40" y1="321.06" y2="343.34" stroke="#111" stroke-width="1.15"/>
<line x1="496.10" x2="498.70" y1="343.34" y2="343.34" stroke="#111" stroke-width="0.8"/>
<line x1="496.10" x2="498.70" y1="321.06" y2="321.06" stroke="#111" stroke-width="0.8"/>
<circle cx="497.40" cy="332.45" r="2.25" fill="#111"/>
<line x1="507.26" x2="507.26" y1="327.30" y2="340.90" stroke="#111" stroke-width="1.15"/>
<line x1="505.96" x2="508.56" y1="340.90" y2="340.90" stroke="#111" stroke-width="0.8"/>
<line x1="505.96" x2="508.56" y1="327.30" y2="327.30" stroke="#111" stroke-width="0.8"/>
<circle cx="507.26" cy="334.28" r="2.25" fill="#111"/>
<line x1="517.12" x2="517.12" y1="322.90" y2="338.81" stroke="#111" stroke-width="1.15"/>
<line x1="515.82" x2="518.42" y1="338.81" y2="338.81" stroke="#111" stroke-width="0.8"/>
<line x1="515.82" x2="518.42" y1="322.90" y2="322.90" stroke="#111" stroke-width="0.8"/>
<circle cx="517.12" cy="330.98" r="2.25" fill="#111"/>
<line x1="526.98" x2="526.98" y1="320.20" y2="340.04" stroke="#111" stroke-width="1.15"/>
<line x1="525.68" x2="528.28" y1="340.04" y2="340.04" stroke="#111" stroke-width="0.8"/>
<line x1="525.68" x2="528.28" y1="320.20" y2="320.20" stroke="#111" stroke-width="0.8"/>
<circle cx="526.98" cy="330.61" r="2.25" fill="#111"/>
<line x1="536.84" x2="536.84" y1="314.32" y2="338.57" stroke="#111" stroke-width="1.15"/>
<line x1="535.54" x2="538.14" y1="338.57" y2="338.57" stroke="#111" stroke-width="0.8"/>
<line x1="535.54" x2="538.14" y1="314.32" y2="314.32" stroke="#111" stroke-width="0.8"/>
<circle cx="536.84" cy="326.45" r="2.25" fill="#111"/>
<line x1="546.70" x2="546.70" y1="303.79" y2="341.75" stroke="#111" stroke-width="1.15"/>
<line x1="545.40" x2="548.00" y1="341.75" y2="341.75" stroke="#111" stroke-width="0.8"/>
<line x1="545.40" x2="548.00" y1="303.79" y2="303.79" stroke="#111" stroke-width="0.8"/>
<circle cx="546.70" cy="323.39" r="2.25" fill="#111"/>
<line x1="556.57" x2="556.57" y1="298.28" y2="334.28" stroke="#111" stroke-width="1.15"/>
<line x1="555.27" x2="557.87" y1="334.28" y2="334.28" stroke="#111" stroke-width="0.8"/>
<line x1="555.27" x2="557.87" y1="298.28" y2="298.28" stroke="#111" stroke-width="0.8"/>
<circle cx="556.57" cy="315.92" r="2.25" fill="#111"/>
<line x1="566.43" x2="566.43" y1="295.10" y2="330.37" stroke="#111" stroke-width="1.15"/>
<line x1="565.13" x2="567.73" y1="330.37" y2="330.37" stroke="#111" stroke-width="0.8"/>
<line x1="565.13" x2="567.73" y1="295.10" y2="295.10" stroke="#111" stroke-width="0.8"/>
<circle cx="566.43" cy="312.61" r="2.25" fill="#111"/>
<line x1="576.29" x2="576.29" y1="291.06" y2="325.83" stroke="#111" stroke-width="1.15"/>
<line x1="574.99" x2="577.59" y1="325.83" y2="325.83" stroke="#111" stroke-width="0.8"/>
<line x1="574.99" x2="577.59" y1="291.06" y2="291.06" stroke="#111" stroke-width="0.8"/>
<circle cx="576.29" cy="308.69" r="2.25" fill="#111"/>
<line x1="586.15" x2="586.15" y1="279.30" y2="325.34" stroke="#111" stroke-width="1.15"/>
<line x1="584.85" x2="587.45" y1="325.34" y2="325.34" stroke="#111" stroke-width="0.8"/>
<line x1="584.85" x2="587.45" y1="279.30" y2="279.30" stroke="#111" stroke-width="0.8"/>
<circle cx="586.15" cy="302.69" r="2.25" fill="#111"/>
<line x1="596.01" x2="596.01" y1="275.51" y2="318.24" stroke="#111" stroke-width="1.15"/>
<line x1="594.71" x2="597.31" y1="318.24" y2="318.24" stroke="#111" stroke-width="0.8"/>
<line x1="594.71" x2="597.31" y1="275.51" y2="275.51" stroke="#111" stroke-width="0.8"/>
<circle cx="596.01" cy="297.18" r="2.25" fill="#111"/>
<line x1="605.87" x2="605.87" y1="264.12" y2="314.08" stroke="#111" stroke-width="1.15"/>
<line x1="604.57" x2="607.17" y1="314.08" y2="314.08" stroke="#111" stroke-width="0.8"/>
<line x1="604.57" x2="607.17" y1="264.12" y2="264.12" stroke="#111" stroke-width="0.8"/>
<circle cx="605.87" cy="288.85" r="2.25" fill="#111"/>
<line x1="615.73" x2="615.73" y1="261.43" y2="307.34" stroke="#111" stroke-width="1.15"/>
<line x1="614.43" x2="617.03" y1="307.34" y2="307.34" stroke="#111" stroke-width="0.8"/>
<line x1="614.43" x2="617.03" y1="261.43" y2="261.43" stroke="#111" stroke-width="0.8"/>
<circle cx="615.73" cy="284.45" r="2.25" fill="#111"/>
<line x1="625.59" x2="625.59" y1="246.61" y2="299.39" stroke="#111" stroke-width="1.15"/>
<line x1="624.29" x2="626.89" y1="299.39" y2="299.39" stroke="#111" stroke-width="0.8"/>
<line x1="624.29" x2="626.89" y1="246.61" y2="246.61" stroke="#111" stroke-width="0.8"/>
<circle cx="625.59" cy="273.06" r="2.25" fill="#111"/>
<line x1="635.45" x2="635.45" y1="244.04" y2="293.26" stroke="#111" stroke-width="1.15"/>
<line x1="634.15" x2="636.75" y1="293.26" y2="293.26" stroke="#111" stroke-width="0.8"/>
<line x1="634.15" x2="636.75" y1="244.04" y2="244.04" stroke="#111" stroke-width="0.8"/>
<circle cx="635.45" cy="268.53" r="2.25" fill="#111"/>
<line x1="645.32" x2="645.32" y1="233.14" y2="280.77" stroke="#111" stroke-width="1.15"/>
<line x1="644.02" x2="646.62" y1="280.77" y2="280.77" stroke="#111" stroke-width="0.8"/>
<line x1="644.02" x2="646.62" y1="233.14" y2="233.14" stroke="#111" stroke-width="0.8"/>
<circle cx="645.32" cy="257.26" r="2.25" fill="#111"/>
<line x1="655.18" x2="655.18" y1="232.28" y2="287.26" stroke="#111" stroke-width="1.15"/>
<line x1="653.88" x2="656.48" y1="287.26" y2="287.26" stroke="#111" stroke-width="0.8"/>
<line x1="653.88" x2="656.48" y1="232.28" y2="232.28" stroke="#111" stroke-width="0.8"/>
<circle cx="655.18" cy="259.34" r="2.25" fill="#111"/>
<line x1="665.04" x2="665.04" y1="227.38" y2="282.00" stroke="#111" stroke-width="1.15"/>
<line x1="663.74" x2="666.34" y1="282.00" y2="282.00" stroke="#111" stroke-width="0.8"/>
<line x1="663.74" x2="666.34" y1="227.38" y2="227.38" stroke="#111" stroke-width="0.8"/>
<circle cx="665.04" cy="254.57" r="2.25" fill="#111"/>
<line x1="674.90" x2="674.90" y1="228.24" y2="273.92" stroke="#111" stroke-width="1.15"/>
<line x1="673.60" x2="676.20" y1="273.92" y2="273.92" stroke="#111" stroke-width="0.8"/>
<line x1="673.60" x2="676.20" y1="228.24" y2="228.24" stroke="#111" stroke-width="0.8"/>
<circle cx="674.90" cy="251.26" r="2.25" fill="#111"/>
<line x1="497.40" x2="497.40" y1="202.16" y2="294.85" stroke="#de1a24" stroke-width="1.15"/>
<line x1="496.10" x2="498.70" y1="294.85" y2="294.85" stroke="#de1a24" stroke-width="0.8"/>
<line x1="496.10" x2="498.70" y1="202.16" y2="202.16" stroke="#de1a24" stroke-width="0.8"/>
<circle cx="497.40" cy="257.75" r="2.25" fill="#de1a24"/>
<line x1="507.26" x2="507.26" y1="242.20" y2="296.32" stroke="#de1a24" stroke-width="1.15"/>
<line x1="505.96" x2="508.56" y1="296.32" y2="296.32" stroke="#de1a24" stroke-width="0.8"/>
<line x1="505.96" x2="508.56" y1="242.20" y2="242.20" stroke="#de1a24" stroke-width="0.8"/>
<circle cx="507.26" cy="269.63" r="2.25" fill="#de1a24"/>
<line x1="517.12" x2="517.12" y1="257.02" y2="309.92" stroke="#de1a24" stroke-width="1.15"/>
<line x1="515.82" x2="518.42" y1="309.92" y2="309.92" stroke="#de1a24" stroke-width="0.8"/>
<line x1="515.82" x2="518.42" y1="257.02" y2="257.02" stroke="#de1a24" stroke-width="0.8"/>
<circle cx="517.12" cy="283.71" r="2.25" fill="#de1a24"/>
<line x1="526.98" x2="526.98" y1="235.83" y2="262.41" stroke="#de1a24" stroke-width="1.15"/>
<line x1="525.68" x2="528.28" y1="262.41" y2="262.41" stroke="#de1a24" stroke-width="0.8"/>
<line x1="525.68" x2="528.28" y1="235.83" y2="235.83" stroke="#de1a24" stroke-width="0.8"/>
<circle cx="526.98" cy="249.06" r="2.25" fill="#de1a24"/>
<line x1="546.70" x2="546.70" y1="229.47" y2="250.41" stroke="#de1a24" stroke-width="1.15"/>
<line x1="545.40" x2="548.00" y1="250.41" y2="250.41" stroke="#de1a24" stroke-width="0.8"/>
<line x1="545.40" x2="548.00" y1="229.47" y2="229.47" stroke="#de1a24" stroke-width="0.8"/>
<circle cx="546.70" cy="239.38" r="2.25" fill="#de1a24"/>
</g>
<line x1="488.4" x2="685" y1="331.7" y2="331.7" stroke="#1a1aa8" stroke-width="1.1" stroke-dasharray="3.2 1.6"/>
<text class="c" transform="translate(609.3,327.3) scale(1,0.94)" style="fill:#2323d6" textLength="54" lengthAdjust="spacingAndGlyphs">background</text>
<line x1="488.4" x2="683.7" y1="367.50" y2="367.50" stroke="#e9e9e9" stroke-width="0.9"/>
<line x1="488.4" x2="683.7" y1="378.87" y2="378.87" stroke="#e9e9e9" stroke-width="0.9"/>
<line x1="488.4" x2="683.7" y1="390.24" y2="390.24" stroke="#e9e9e9" stroke-width="0.9"/>
<line x1="488.4" x2="683.7" y1="401.61" y2="401.61" stroke="#e9e9e9" stroke-width="0.9"/>
<line x1="488.4" x2="683.7" y1="412.98" y2="412.98" stroke="#e9e9e9" stroke-width="0.9"/>
<line x1="488.4" x2="683.7" y1="424.35" y2="424.35" stroke="#e9e9e9" stroke-width="0.9"/>
<line x1="488.4" x2="683.7" y1="435.72" y2="435.72" stroke="#e9e9e9" stroke-width="0.9"/>
<line x1="488.4" x2="683.7" y1="447.09" y2="447.09" stroke="#e9e9e9" stroke-width="0.9"/>
<line x1="497.40" x2="497.40" y1="358.7" y2="460.8" stroke="#e9e9e9" stroke-width="0.9"/>
<line x1="517.12" x2="517.12" y1="358.7" y2="460.8" stroke="#e9e9e9" stroke-width="0.9"/>
<line x1="536.84" x2="536.84" y1="358.7" y2="460.8" stroke="#e9e9e9" stroke-width="0.9"/>
<line x1="556.57" x2="556.57" y1="358.7" y2="460.8" stroke="#e9e9e9" stroke-width="0.9"/>
<line x1="576.29" x2="576.29" y1="358.7" y2="460.8" stroke="#e9e9e9" stroke-width="0.9"/>
<line x1="596.01" x2="596.01" y1="358.7" y2="460.8" stroke="#e9e9e9" stroke-width="0.9"/>
<line x1="615.73" x2="615.73" y1="358.7" y2="460.8" stroke="#e9e9e9" stroke-width="0.9"/>
<line x1="635.45" x2="635.45" y1="358.7" y2="460.8" stroke="#e9e9e9" stroke-width="0.9"/>
<line x1="655.18" x2="655.18" y1="358.7" y2="460.8" stroke="#e9e9e9" stroke-width="0.9"/>
<line x1="674.90" x2="674.90" y1="358.7" y2="460.8" stroke="#e9e9e9" stroke-width="0.9"/>
<clipPath id="cc2"><rect x="488.4" y="358.7" width="197.3" height="102.1"/></clipPath>
<g clip-path="url(#cc2)">
<circle cx="497.40" cy="363.0" r="2.3" fill="#111"/>
<circle cx="507.26" cy="370.2" r="2.3" fill="#111"/>
<circle cx="517.12" cy="377.5" r="2.3" fill="#111"/>
<circle cx="526.98" cy="384.5" r="2.3" fill="#111"/>
<circle cx="536.84" cy="391.4" r="2.3" fill="#111"/>
<circle cx="546.70" cy="398.6" r="2.3" fill="#111"/>
<circle cx="556.57" cy="405.5" r="2.3" fill="#111"/>
<circle cx="566.43" cy="413.0" r="2.3" fill="#111"/>
<circle cx="576.29" cy="420.0" r="2.3" fill="#111"/>
<circle cx="586.15" cy="427.5" r="2.3" fill="#111"/>
<circle cx="596.01" cy="433.6" r="2.3" fill="#111"/>
<circle cx="605.87" cy="440.7" r="2.3" fill="#111"/>
<circle cx="615.73" cy="448.1" r="2.3" fill="#111"/>
<circle cx="625.59" cy="457.1" r="2.3" fill="#111"/>
<circle cx="635.45" cy="460.9" r="2.3" fill="#111"/>
<circle cx="645.32" cy="460.9" r="2.3" fill="#111"/>
<circle cx="655.18" cy="460.9" r="2.3" fill="#111"/>
<circle cx="665.04" cy="460.9" r="2.3" fill="#111"/>
<circle cx="674.90" cy="460.9" r="2.3" fill="#111"/>
</g>
<text class="c" transform="translate(484.2,369.80) scale(1,0.94)" text-anchor="end">10<tspan dy="-3.8" style="font-size:9px">2</tspan></text>
<text class="c" transform="translate(484.2,381.17) scale(1,0.94)" text-anchor="end">10<tspan dy="-3.8" style="font-size:9px">1</tspan></text>
<text class="c" transform="translate(484.2,392.54) scale(1,0.94)" text-anchor="end">10<tspan dy="-3.8" style="font-size:9px">0</tspan></text>
<text class="c" transform="translate(484.2,403.91) scale(1,0.94)" text-anchor="end">10<tspan dy="-3.8" style="font-size:9px">−1</tspan></text>
<text class="c" transform="translate(484.2,415.28) scale(1,0.94)" text-anchor="end">10<tspan dy="-3.8" style="font-size:9px">−2</tspan></text>
<text class="c" transform="translate(484.2,426.65) scale(1,0.94)" text-anchor="end">10<tspan dy="-3.8" style="font-size:9px">−3</tspan></text>
<text class="c" transform="translate(484.2,438.02) scale(1,0.94)" text-anchor="end">10<tspan dy="-3.8" style="font-size:9px">−4</tspan></text>
<text class="c" transform="translate(484.2,449.39) scale(1,0.94)" text-anchor="end">10<tspan dy="-3.8" style="font-size:9px">−5</tspan></text>
<text class="c" transform="translate(444.6,406.6) rotate(-90) scale(1,0.94)" text-anchor="middle" textLength="77" lengthAdjust="spacingAndGlyphs">Average number</text>
<text class="c" transform="translate(456.2,410) rotate(-90) scale(1,0.94)" text-anchor="middle" textLength="85.6" lengthAdjust="spacingAndGlyphs">of inverted repeats</text>
<text class="c" transform="translate(497.40,474.3) scale(1,0.94)" text-anchor="middle">2</text>
<text class="c" transform="translate(517.12,474.3) scale(1,0.94)" text-anchor="middle">4</text>
<text class="c" transform="translate(536.84,474.3) scale(1,0.94)" text-anchor="middle">6</text>
<text class="c" transform="translate(556.57,474.3) scale(1,0.94)" text-anchor="middle">8</text>
<text class="c" transform="translate(576.29,474.3) scale(1,0.94)" text-anchor="middle">10</text>
<text class="c" transform="translate(596.01,474.3) scale(1,0.94)" text-anchor="middle">12</text>
<text class="c" transform="translate(615.73,474.3) scale(1,0.94)" text-anchor="middle">14</text>
<text class="c" transform="translate(635.45,474.3) scale(1,0.94)" text-anchor="middle">16</text>
<text class="c" transform="translate(655.18,474.3) scale(1,0.94)" text-anchor="middle">18</text>
<text class="c" transform="translate(674.90,474.3) scale(1,0.94)" text-anchor="middle">20</text>
<text class="c" transform="translate(585.7,488.4) scale(1,0.94)" text-anchor="middle" textLength="100.5" lengthAdjust="spacingAndGlyphs">Inverted repeat length</text>
<line x1="497.40" x2="497.40" y1="220.0" y2="461.6" stroke="#de1a24" stroke-width="1" stroke-dasharray="3 1.6"/>
<line x1="546.70" x2="546.70" y1="220.0" y2="461.6" stroke="#de1a24" stroke-width="1" stroke-dasharray="3 1.6"/>
</g>
</svg></body></html>
